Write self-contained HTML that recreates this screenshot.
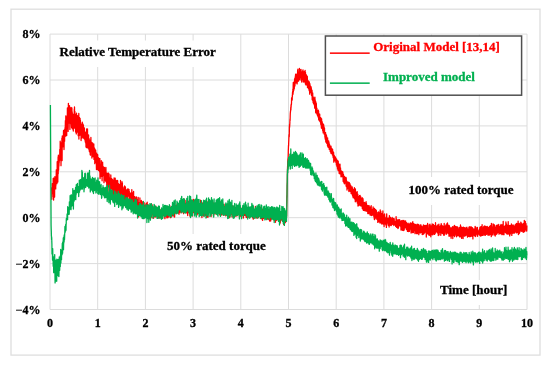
<!DOCTYPE html>
<html><head><meta charset="utf-8"><style>
html,body{margin:0;padding:0;background:#fff;}
body{width:550px;height:365px;overflow:hidden;}
svg{display:block;}
text{font-family:"Liberation Serif","Times New Roman",serif;font-weight:bold;stroke-width:0.3px;paint-order:fill;}
</style></head><body>
<svg width="550" height="365" viewBox="0 0 550 365">
<rect x="0" y="0" width="550" height="365" fill="#fff"/>
<rect x="11" y="9.2" width="529" height="345.9" fill="none" stroke="#dedede" stroke-width="1.3"/>
<g stroke="#dcdcdc" stroke-width="1">
<line x1="50.00" y1="34.1" x2="50.00" y2="309.5"/>
<line x1="97.70" y1="34.1" x2="97.70" y2="309.5"/>
<line x1="145.40" y1="34.1" x2="145.40" y2="309.5"/>
<line x1="193.10" y1="34.1" x2="193.10" y2="309.5"/>
<line x1="240.80" y1="34.1" x2="240.80" y2="309.5"/>
<line x1="288.50" y1="34.1" x2="288.50" y2="309.5"/>
<line x1="336.20" y1="34.1" x2="336.20" y2="309.5"/>
<line x1="383.90" y1="34.1" x2="383.90" y2="309.5"/>
<line x1="431.60" y1="34.1" x2="431.60" y2="309.5"/>
<line x1="479.30" y1="34.1" x2="479.30" y2="309.5"/>
<line x1="527.00" y1="34.1" x2="527.00" y2="309.5"/>
<line x1="50.0" y1="34.10" x2="527.0" y2="34.10"/>
<line x1="50.0" y1="80.00" x2="527.0" y2="80.00"/>
<line x1="50.0" y1="125.90" x2="527.0" y2="125.90"/>
<line x1="50.0" y1="171.80" x2="527.0" y2="171.80"/>
<line x1="50.0" y1="217.70" x2="527.0" y2="217.70"/>
<line x1="50.0" y1="263.60" x2="527.0" y2="263.60"/>
<line x1="50.0" y1="309.50" x2="527.0" y2="309.50"/>
</g>
<g font-size="12" fill="#000" stroke="#000">
<text x="40.5" y="38.30" text-anchor="end">8%</text>
<text x="40.5" y="84.20" text-anchor="end">6%</text>
<text x="40.5" y="130.10" text-anchor="end">4%</text>
<text x="40.5" y="176.00" text-anchor="end">2%</text>
<text x="40.5" y="221.90" text-anchor="end">0%</text>
<text x="40.5" y="267.80" text-anchor="end"><tspan font-weight="normal">&#8722;</tspan>2%</text>
<text x="40.5" y="313.70" text-anchor="end"><tspan font-weight="normal">&#8722;</tspan>4%</text>
<text x="50.00" y="326.8" text-anchor="middle">0</text>
<text x="97.70" y="326.8" text-anchor="middle">1</text>
<text x="145.40" y="326.8" text-anchor="middle">2</text>
<text x="193.10" y="326.8" text-anchor="middle">3</text>
<text x="240.80" y="326.8" text-anchor="middle">4</text>
<text x="288.50" y="326.8" text-anchor="middle">5</text>
<text x="336.20" y="326.8" text-anchor="middle">6</text>
<text x="383.90" y="326.8" text-anchor="middle">7</text>
<text x="431.60" y="326.8" text-anchor="middle">8</text>
<text x="479.30" y="326.8" text-anchor="middle">9</text>
<text x="527.00" y="326.8" text-anchor="middle">10</text>
</g>
<polyline points="51.6,190.4 51.7,187.6 51.8,199.3 51.9,196.7 52.0,196.8 52.1,196.8 52.2,183.6 52.3,193.4 52.4,189.5 52.5,192.0 52.6,190.2 52.7,193.6 52.8,189.5 52.9,188.9 53.0,193.2 53.1,193.2 53.2,178.4 53.3,179.0 53.4,185.3 53.5,188.7 53.6,200.1 53.7,178.1 53.8,194.1 53.9,191.1 54.0,181.4 54.1,197.3 54.2,183.8 54.3,194.4 54.4,180.3 54.5,186.9 54.6,197.0 54.7,178.0 54.8,180.5 54.9,176.6 55.0,186.7 55.1,186.2 55.2,179.0 55.3,183.7 55.4,181.7 55.5,180.8 55.6,182.6 55.7,188.9 55.8,178.1 55.9,185.4 56.0,176.9 56.1,177.4 56.2,176.5 56.3,169.8 56.4,178.5 56.5,179.5 56.6,175.8 56.7,170.7 56.8,177.0 56.9,183.7 57.0,180.5 57.1,179.3 57.2,161.7 57.3,167.4 57.4,162.7 57.5,165.0 57.6,168.8 57.7,169.5 57.8,182.1 57.9,161.1 58.0,167.7 58.1,156.8 58.2,173.7 58.3,164.7 58.4,155.1 58.5,163.7 58.6,170.3 58.7,161.6 58.8,158.4 58.9,166.3 59.0,163.1 59.1,157.0 59.2,162.4 59.3,160.3 59.4,157.3 59.5,157.0 59.6,158.2 59.7,159.5 59.8,149.4 59.9,151.2 60.0,149.9 60.1,160.0 60.2,141.2 60.3,152.4 60.4,157.3 60.5,155.1 60.6,158.7 60.7,154.8 60.8,142.6 60.9,151.2 61.0,165.7 61.1,149.3 61.2,149.7 61.3,156.7 61.4,142.7 61.5,151.2 61.6,154.7 61.7,152.9 61.8,147.4 61.9,138.1 62.0,153.7 62.1,160.5 62.2,141.6 62.3,135.9 62.4,146.1 62.5,143.9 62.6,140.5 62.7,144.2 62.8,142.0 62.9,146.8 63.0,137.9 63.1,141.6 63.2,144.0 63.3,142.8 63.4,144.1 63.5,130.7 63.6,135.7 63.7,141.8 63.8,147.0 63.9,140.5 64.0,149.5 64.1,145.7 64.2,129.9 64.3,134.6 64.4,140.1 64.5,132.0 64.6,141.2 64.7,131.5 64.8,129.1 64.9,133.8 65.0,131.1 65.1,127.4 65.2,129.5 65.3,125.9 65.4,120.6 65.5,120.6 65.6,136.2 65.7,135.5 65.8,116.0 65.9,132.3 66.0,123.5 66.1,124.2 66.2,124.5 66.3,133.0 66.4,117.8 66.5,117.8 66.6,117.0 66.7,135.6 66.8,116.8 66.9,117.0 67.0,118.9 67.1,127.8 67.2,115.4 67.3,121.5 67.4,108.0 67.5,118.7 67.6,122.7 67.7,116.8 67.8,114.5 67.9,124.7 68.0,121.4 68.1,131.4 68.2,126.5 68.3,117.4 68.4,103.3 68.5,115.2 68.6,112.1 68.7,115.8 68.8,108.2 68.9,115.6 69.0,120.9 69.1,118.8 69.2,112.9 69.3,108.8 69.4,123.2 69.5,105.7 69.6,117.8 69.7,122.0 69.8,120.5 69.9,129.4 70.0,120.4 70.1,120.3 70.2,111.7 70.3,116.6 70.4,108.0 70.5,117.3 70.6,114.0 70.7,123.2 70.8,122.0 70.9,118.4 71.0,107.3 71.1,108.3 71.2,124.0 71.3,118.2 71.4,120.5 71.5,126.0 71.6,127.7 71.7,121.9 71.8,112.3 71.9,108.0 72.0,124.5 72.1,118.3 72.2,111.8 72.3,128.8 72.4,113.6 72.5,117.4 72.6,121.8 72.7,126.2 72.8,118.1 72.9,116.5 73.0,114.2 73.1,121.9 73.2,116.3 73.3,131.0 73.4,118.4 73.5,120.6 73.6,125.8 73.7,124.6 73.8,119.0 73.9,114.2 74.0,117.5 74.1,118.3 74.2,114.8 74.3,109.1 74.4,128.2 74.5,106.9 74.6,116.6 74.7,124.1 74.8,120.0 74.9,111.4 75.0,119.4 75.1,123.8 75.2,122.7 75.3,114.7 75.4,119.2 75.5,124.3 75.6,132.1 75.7,122.2 75.8,115.0 75.9,124.4 76.0,120.5 76.1,120.4 76.2,124.7 76.3,133.9 76.4,116.1 76.5,113.2 76.6,117.4 76.7,123.7 76.8,119.0 76.9,120.3 77.0,127.7 77.1,132.1 77.2,120.0 77.3,117.2 77.4,126.9 77.5,115.6 77.6,130.2 77.7,128.0 77.8,116.0 77.9,127.6 78.0,125.3 78.1,118.3 78.2,135.7 78.3,135.5 78.4,129.9 78.5,120.9 78.6,122.5 78.7,119.1 78.8,113.5 78.9,139.0 79.0,122.5 79.1,122.4 79.2,121.1 79.3,126.0 79.4,117.5 79.5,129.4 79.6,135.3 79.7,124.3 79.8,125.2 79.9,131.6 80.0,122.3 80.1,118.5 80.2,132.1 80.3,135.1 80.4,120.3 80.5,126.1 80.6,123.0 80.7,132.2 80.8,128.1 80.9,131.3 81.0,125.3 81.1,140.5 81.2,124.2 81.3,131.3 81.4,136.8 81.5,127.1 81.6,125.9 81.7,128.2 81.8,131.7 81.9,138.0 82.0,138.1 82.1,128.3 82.2,127.4 82.3,122.2 82.4,131.6 82.5,133.3 82.6,134.7 82.7,137.1 82.8,128.2 82.9,124.0 83.0,129.7 83.1,130.6 83.2,131.7 83.3,131.7 83.4,125.0 83.5,138.1 83.6,132.1 83.7,129.9 83.8,134.3 83.9,131.4 84.0,132.2 84.1,131.6 84.2,138.8 84.3,138.9 84.4,128.0 84.5,137.8 84.6,138.8 84.7,134.5 84.8,136.5 84.9,139.9 85.0,137.5 85.1,135.1 85.2,137.4 85.3,142.1 85.4,136.3 85.5,137.8 85.6,132.1 85.7,139.0 85.8,143.2 85.9,135.1 86.0,147.1 86.1,140.0 86.2,147.3 86.3,134.8 86.4,138.3 86.5,132.9 86.6,128.9 86.7,138.9 86.8,135.8 86.9,141.2 87.0,143.3 87.1,138.5 87.2,148.1 87.3,135.9 87.4,143.0 87.5,128.8 87.6,143.6 87.7,137.8 87.8,138.4 87.9,141.5 88.0,136.2 88.1,147.3 88.2,145.5 88.3,136.2 88.4,144.8 88.5,146.2 88.6,134.9 88.7,148.8 88.8,148.1 88.9,149.5 89.0,138.4 89.1,139.3 89.2,146.7 89.3,151.3 89.4,142.2 89.5,147.4 89.6,139.8 89.7,151.9 89.8,141.3 89.9,150.1 90.0,142.6 90.1,145.7 90.2,154.8 90.3,147.1 90.4,149.4 90.5,155.2 90.6,140.5 90.7,146.5 90.8,147.5 90.9,137.4 91.0,147.6 91.1,141.9 91.2,143.3 91.3,149.9 91.4,143.0 91.5,142.1 91.6,144.3 91.7,147.7 91.8,148.2 91.9,158.0 92.0,144.3 92.1,147.2 92.2,154.6 92.3,151.6 92.4,156.0 92.5,147.2 92.6,142.9 92.7,146.0 92.8,152.3 92.9,151.2 93.0,148.1 93.1,155.0 93.2,156.7 93.3,152.3 93.4,152.9 93.5,154.4 93.6,152.8 93.7,157.0 93.8,144.0 93.9,155.2 94.0,159.4 94.1,153.8 94.2,159.3 94.3,153.1 94.4,149.1 94.5,157.7 94.6,148.2 94.7,154.3 94.8,163.7 94.9,152.0 95.0,156.2 95.1,156.7 95.2,160.8 95.3,153.8 95.4,152.5 95.5,153.4 95.6,150.0 95.7,150.6 95.8,158.0 95.9,153.9 96.0,162.6 96.1,160.7 96.2,157.6 96.3,159.8 96.4,167.1 96.5,169.6 96.6,163.9 96.7,153.1 96.8,160.8 96.9,154.2 97.0,157.6 97.1,157.4 97.2,162.2 97.3,169.1 97.4,157.6 97.5,159.9 97.6,169.4 97.7,154.7 97.8,169.2 97.9,165.7 98.0,161.3 98.1,164.3 98.2,163.5 98.3,157.4 98.4,170.6 98.5,159.0 98.6,166.0 98.7,158.6 98.8,162.9 98.9,168.8 99.0,166.1 99.1,158.7 99.2,166.1 99.3,162.8 99.4,168.2 99.5,161.7 99.6,169.3 99.7,172.1 99.8,158.3 99.9,162.9 100.0,177.4 100.1,178.6 100.2,171.4 100.3,167.4 100.4,166.0 100.5,164.5 100.6,173.0 100.7,168.9 100.8,176.5 100.9,169.7 101.0,169.4 101.1,167.4 101.2,171.3 101.3,160.7 101.4,170.4 101.5,169.3 101.6,164.4 101.7,173.5 101.8,164.7 101.9,169.1 102.0,165.8 102.1,180.8 102.2,171.3 102.3,173.6 102.4,176.5 102.5,172.4 102.6,162.1 102.7,165.1 102.8,172.6 102.9,173.7 103.0,169.0 103.1,171.8 103.2,175.7 103.3,173.7 103.4,166.9 103.5,169.0 103.6,167.6 103.7,174.9 103.8,167.6 103.9,172.4 104.0,182.7 104.1,171.3 104.2,174.6 104.3,179.8 104.4,176.2 104.5,167.4 104.6,170.2 104.7,173.1 104.8,170.9 104.9,177.8 105.0,176.7 105.1,171.3 105.2,178.2 105.3,179.5 105.4,180.9 105.5,180.3 105.6,176.9 105.7,180.6 105.8,173.6 105.9,167.4 106.0,171.9 106.1,181.7 106.2,179.4 106.3,173.9 106.4,181.2 106.5,182.5 106.6,174.1 106.7,183.0 106.8,185.4 106.9,173.2 107.0,177.5 107.1,183.6 107.2,175.1 107.3,180.0 107.4,181.8 107.5,184.3 107.6,175.8 107.7,176.8 107.8,183.5 107.9,183.2 108.0,177.4 108.1,180.4 108.2,172.9 108.3,186.8 108.4,181.1 108.5,173.7 108.6,182.1 108.7,173.5 108.8,183.4 108.9,184.3 109.0,191.1 109.1,174.1 109.2,184.7 109.3,177.0 109.4,181.2 109.5,187.0 109.6,178.5 109.7,189.3 109.8,179.7 109.9,178.6 110.0,179.9 110.1,185.6 110.2,190.0 110.3,187.1 110.4,179.1 110.5,178.3 110.6,188.0 110.7,182.0 110.8,174.9 110.9,178.3 111.0,178.3 111.1,184.9 111.2,181.9 111.3,188.6 111.4,185.5 111.5,178.5 111.6,181.3 111.7,187.1 111.8,178.8 111.9,186.2 112.0,195.3 112.1,179.1 112.2,185.0 112.3,179.4 112.4,191.1 112.5,183.6 112.6,193.5 112.7,192.3 112.8,185.7 112.9,192.3 113.0,186.3 113.1,180.1 113.2,180.2 113.3,192.1 113.4,188.6 113.5,187.7 113.6,195.2 113.7,193.1 113.8,185.1 113.9,183.8 114.0,190.5 114.1,177.8 114.2,185.3 114.3,180.7 114.4,193.3 114.5,185.9 114.6,190.4 114.7,192.9 114.8,191.7 114.9,185.2 115.0,189.0 115.1,183.7 115.2,178.2 115.3,185.8 115.4,190.5 115.5,193.5 115.6,194.2 115.7,191.3 115.8,187.5 115.9,185.7 116.0,190.9 116.1,182.3 116.2,180.3 116.3,186.1 116.4,185.7 116.5,191.5 116.6,193.7 116.7,182.6 116.8,184.1 116.9,186.1 117.0,194.4 117.1,186.1 117.2,183.0 117.3,191.4 117.4,192.0 117.5,180.4 117.6,187.5 117.7,180.7 117.8,190.1 117.9,185.9 118.0,183.3 118.1,189.0 118.2,183.5 118.3,199.4 118.4,186.9 118.5,189.9 118.6,183.6 118.7,195.1 118.8,187.6 118.9,189.4 119.0,192.0 119.1,196.4 119.2,187.4 119.3,192.5 119.4,191.9 119.5,184.7 119.6,186.1 119.7,195.5 119.8,184.8 119.9,195.1 120.0,190.7 120.1,195.0 120.2,195.1 120.3,190.0 120.4,192.2 120.5,180.4 120.6,186.2 120.7,194.6 120.8,191.9 120.9,188.2 121.0,188.2 121.1,186.5 121.2,196.5 121.3,184.7 121.4,184.4 121.5,183.6 121.6,188.7 121.7,197.8 121.8,191.4 121.9,183.8 122.0,181.7 122.1,192.1 122.2,189.0 122.3,191.5 122.4,182.9 122.5,198.7 122.6,195.7 122.7,188.3 122.8,186.7 122.9,192.6 123.0,190.8 123.1,189.1 123.2,187.6 123.3,192.8 123.4,192.0 123.5,194.0 123.6,195.5 123.7,198.5 123.8,196.6 123.9,197.9 124.0,189.4 124.1,199.0 124.2,189.4 124.3,194.6 124.4,199.4 124.5,195.7 124.6,186.0 124.7,194.7 124.8,198.3 124.9,190.9 125.0,188.5 125.1,191.8 125.2,194.2 125.3,200.6 125.4,187.0 125.5,188.5 125.6,195.5 125.7,191.3 125.8,191.7 125.9,189.7 126.0,197.2 126.1,195.9 126.2,193.4 126.3,192.0 126.4,192.3 126.5,191.8 126.6,189.8 126.7,195.9 126.8,198.7 126.9,195.5 127.0,192.2 127.1,193.1 127.2,199.3 127.3,200.9 127.4,195.2 127.5,195.5 127.6,192.8 127.7,188.8 127.8,192.5 127.9,192.1 128.0,192.1 128.1,194.3 128.2,196.1 128.3,194.1 128.4,191.0 128.5,189.7 128.6,189.2 128.7,196.1 128.8,193.3 128.9,190.7 129.0,189.5 129.1,199.2 129.2,198.7 129.3,191.3 129.4,195.7 129.5,200.1 129.6,195.9 129.7,202.3 129.8,196.0 129.9,203.9 130.0,194.8 130.1,194.0 130.2,196.1 130.3,201.2 130.4,197.2 130.5,195.8 130.6,193.4 130.7,197.0 130.8,192.8 130.9,202.2 131.0,204.7 131.1,195.8 131.2,204.9 131.3,200.0 131.4,203.4 131.5,198.3 131.6,199.0 131.7,201.3 131.8,189.6 131.9,192.7 132.0,201.7 132.1,200.6 132.2,199.9 132.3,195.8 132.4,206.2 132.5,193.6 132.6,204.0 132.7,199.9 132.8,192.8 132.9,201.8 133.0,201.2 133.1,204.2 133.2,206.1 133.3,200.2 133.4,198.5 133.5,202.3 133.6,191.4 133.7,205.7 133.8,205.3 133.9,196.3 134.0,204.4 134.1,197.4 134.2,200.6 134.3,204.8 134.4,201.1 134.5,202.2 134.6,202.8 134.7,197.8 134.8,196.7 134.9,207.1 135.0,204.6 135.1,197.1 135.2,203.7 135.3,199.7 135.4,202.2 135.5,203.5 135.6,199.0 135.7,200.3 135.8,203.2 135.9,198.6 136.0,205.9 136.1,208.5 136.2,208.1 136.3,206.8 136.4,204.3 136.5,196.8 136.6,202.8 136.7,199.0 136.8,207.8 136.9,209.2 137.0,209.7 137.1,206.1 137.2,201.9 137.3,204.7 137.4,211.7 137.5,203.6 137.6,206.5 137.7,205.6 137.8,199.5 137.9,207.9 138.0,208.6 138.1,200.0 138.2,197.4 138.3,211.4 138.4,212.3 138.5,213.6 138.6,216.9 138.7,202.4 138.8,208.3 138.9,212.4 139.0,207.8 139.1,207.2 139.2,203.7 139.3,204.3 139.4,208.6 139.5,211.9 139.6,208.2 139.7,206.5 139.8,209.9 139.9,197.9 140.0,206.6 140.1,213.4 140.2,211.7 140.3,210.3 140.4,204.8 140.5,204.2 140.6,208.7 140.7,214.0 140.8,205.7 140.9,205.9 141.0,214.8 141.1,204.0 141.2,207.9 141.3,200.4 141.4,202.6 141.5,201.8 141.6,204.0 141.7,209.2 141.8,204.9 141.9,210.2 142.0,211.8 142.1,201.9 142.2,207.5 142.3,202.7 142.4,207.8 142.5,206.8 142.6,211.0 142.7,201.9 142.8,207.1 142.9,204.2 143.0,207.8 143.1,211.0 143.2,201.9 143.3,208.9 143.4,205.6 143.5,212.5 143.6,208.9 143.7,208.3 143.8,213.6 143.9,204.1 144.0,214.8 144.1,202.7 144.2,208.1 144.3,213.2 144.4,209.3 144.5,208.2 144.6,206.8 144.7,205.5 144.8,209.0 144.9,214.3 145.0,207.8 145.1,210.8 145.2,209.2 145.3,210.2 145.4,206.5 145.5,208.9 145.6,211.9 145.7,209.2 145.8,204.6 145.9,207.3 146.0,212.2 146.1,211.4 146.2,203.3 146.3,211.9 146.4,215.9 146.5,206.7 146.6,203.6 146.7,214.9 146.8,211.5 146.9,209.1 147.0,208.4 147.1,213.2 147.2,202.2 147.3,216.6 147.4,210.2 147.5,213.9 147.6,206.1 147.7,216.1 147.8,213.2 147.9,209.8 148.0,214.2 148.1,204.6 148.2,210.5 148.3,209.2 148.4,209.8 148.5,217.0 148.6,211.3 148.7,210.2 148.8,208.0 148.9,209.3 149.0,214.0 149.1,214.2 149.2,213.3 149.3,212.4 149.4,217.7 149.5,216.0 149.6,209.3 149.7,206.5 149.8,213.8 149.9,215.1 150.0,219.1 150.1,213.9 150.2,210.6 150.3,209.1 150.4,208.6 150.5,217.0 150.6,210.6 150.7,212.8 150.8,210.2 150.9,210.6 151.0,203.9 151.1,214.9 151.2,204.9 151.3,209.1 151.4,207.9 151.5,210.7 151.6,211.5 151.7,215.4 151.8,210.9 151.9,217.8 152.0,204.6 152.1,207.0 152.2,215.1 152.3,211.8 152.4,208.0 152.5,211.3 152.6,208.8 152.7,212.8 152.8,206.9 152.9,206.4 153.0,207.9 153.1,211.0 153.2,211.2 153.3,212.3 153.4,212.1 153.5,208.9 153.6,218.3 153.7,212.2 153.8,211.4 153.9,212.7 154.0,212.7 154.1,212.9 154.2,211.9 154.3,214.0 154.4,215.2 154.5,212.2 154.6,210.5 154.7,215.6 154.8,216.8 154.9,208.3 155.0,214.4 155.1,213.9 155.2,207.2 155.3,217.0 155.4,207.8 155.5,211.3 155.6,211.6 155.7,206.6 155.8,212.2 155.9,206.2 156.0,213.3 156.1,216.6 156.2,214.1 156.3,209.8 156.4,215.0 156.5,210.7 156.6,209.9 156.7,210.6 156.8,210.9 156.9,213.4 157.0,209.9 157.1,210.1 157.2,211.8 157.3,215.3 157.4,213.7 157.5,214.5 157.6,209.8 157.7,215.6 157.8,218.4 157.9,210.0 158.0,216.7 158.1,218.0 158.2,214.8 158.3,215.7 158.4,214.4 158.5,215.7 158.6,217.6 158.7,216.3 158.8,216.2 158.9,212.1 159.0,214.0 159.1,213.7 159.2,212.6 159.3,210.6 159.4,217.3 159.5,216.3 159.6,217.6 159.7,215.1 159.8,212.1 159.9,213.0 160.0,216.7 160.1,216.7 160.2,217.7 160.3,211.3 160.4,214.4 160.5,217.3 160.6,216.8 160.7,211.5 160.8,213.1 160.9,214.5 161.0,209.4 161.1,217.0 161.2,213.1 161.3,212.4 161.4,215.0 161.5,212.0 161.6,216.2 161.7,213.4 161.8,215.0 161.9,211.6 162.0,216.7 162.1,209.1 162.2,216.2 162.3,215.3 162.4,212.8 162.5,214.0 162.6,214.9 162.7,217.0 162.8,212.2 162.9,216.1 163.0,211.2 163.1,215.5 163.2,212.9 163.3,213.3 163.4,215.2 163.5,209.3 163.6,213.9 163.7,214.5 163.8,211.6 163.9,212.9 164.0,211.4 164.1,210.5 164.2,211.8 164.3,214.1 164.4,212.1 164.5,212.9 164.6,216.9 164.7,213.1 164.8,214.6 164.9,218.7 165.0,214.8 165.1,213.6 165.2,209.8 165.3,212.4 165.4,209.1 165.5,209.6 165.6,213.2 165.7,210.6 165.8,214.3 165.9,213.4 166.0,210.4 166.1,212.0 166.2,213.3 166.3,213.4 166.4,216.9 166.5,211.2 166.6,212.8 166.7,213.0 166.8,208.7 166.9,214.2 167.0,217.9 167.1,208.6 167.2,209.0 167.3,210.7 167.4,212.4 167.5,208.0 167.6,210.6 167.7,214.6 167.8,209.4 167.9,214.1 168.0,213.5 168.1,217.6 168.2,211.6 168.3,215.7 168.4,212.5 168.5,214.6 168.6,208.6 168.7,216.3 168.8,209.3 168.9,212.7 169.0,214.8 169.1,215.4 169.2,210.6 169.3,215.5 169.4,215.1 169.5,215.5 169.6,208.0 169.7,208.1 169.8,214.9 169.9,206.0 170.0,212.6 170.1,209.8 170.2,217.6 170.3,214.5 170.4,210.7 170.5,215.0 170.6,213.1 170.7,211.3 170.8,212.2 170.9,217.6 171.0,211.9 171.1,214.1 171.2,209.2 171.3,208.2 171.4,213.2 171.5,216.1 171.6,213.2 171.7,210.8 171.8,207.7 171.9,207.9 172.0,209.0 172.1,209.3 172.2,210.9 172.3,215.0 172.4,211.1 172.5,210.0 172.6,209.7 172.7,206.8 172.8,216.0 172.9,211.4 173.0,208.2 173.1,211.0 173.2,212.6 173.3,215.5 173.4,212.0 173.5,211.7 173.6,210.3 173.7,208.5 173.8,213.5 173.9,214.2 174.0,211.8 174.1,209.1 174.2,209.1 174.3,216.9 174.4,211.2 174.5,210.4 174.6,217.1 174.7,210.3 174.8,210.9 174.9,212.3 175.0,205.9 175.1,211.6 175.2,211.1 175.3,207.2 175.4,205.6 175.5,213.1 175.6,210.0 175.7,208.7 175.8,210.0 175.9,209.7 176.0,210.4 176.1,209.6 176.2,208.8 176.3,208.6 176.4,210.1 176.5,205.6 176.6,210.3 176.7,213.2 176.8,210.0 176.9,211.6 177.0,207.7 177.1,204.1 177.2,205.3 177.3,209.2 177.4,206.4 177.5,212.2 177.6,206.3 177.7,208.1 177.8,210.2 177.9,205.6 178.0,209.5 178.1,212.0 178.2,207.8 178.3,210.3 178.4,213.1 178.5,206.4 178.6,203.8 178.7,208.0 178.8,208.1 178.9,208.6 179.0,214.3 179.1,209.9 179.2,203.4 179.3,211.1 179.4,209.8 179.5,207.2 179.6,212.3 179.7,202.6 179.8,204.6 179.9,209.3 180.0,204.1 180.1,201.7 180.2,210.0 180.3,209.7 180.4,202.7 180.5,210.6 180.6,206.1 180.7,205.1 180.8,212.1 180.9,209.6 181.0,212.8 181.1,212.3 181.2,209.6 181.3,211.4 181.4,210.6 181.5,209.5 181.6,207.4 181.7,206.5 181.8,208.9 181.9,206.0 182.0,203.6 182.1,206.5 182.2,211.7 182.3,204.1 182.4,207.1 182.5,205.6 182.6,209.1 182.7,208.7 182.8,209.1 182.9,209.1 183.0,208.1 183.1,212.7 183.2,210.0 183.3,206.8 183.4,207.1 183.5,209.7 183.6,213.7 183.7,207.9 183.8,206.1 183.9,200.0 184.0,207.0 184.1,207.3 184.2,212.0 184.3,208.1 184.4,207.5 184.5,199.2 184.6,205.8 184.7,211.2 184.8,206.4 184.9,203.6 185.0,204.6 185.1,200.3 185.2,204.3 185.3,204.7 185.4,203.8 185.5,207.5 185.6,212.0 185.7,207.8 185.8,205.7 185.9,207.8 186.0,211.8 186.1,204.7 186.2,203.5 186.3,206.2 186.4,207.3 186.5,209.6 186.6,212.9 186.7,212.0 186.8,205.9 186.9,207.8 187.0,208.2 187.1,211.8 187.2,208.6 187.3,205.7 187.4,204.3 187.5,207.5 187.6,210.6 187.7,215.5 187.8,209.5 187.9,205.7 188.0,206.0 188.1,209.0 188.2,208.1 188.3,204.8 188.4,205.3 188.5,209.2 188.6,212.5 188.7,201.1 188.8,209.4 188.9,211.9 189.0,208.5 189.1,209.9 189.2,207.4 189.3,204.2 189.4,201.4 189.5,201.6 189.6,211.0 189.7,206.7 189.8,205.7 189.9,216.0 190.0,203.2 190.1,212.2 190.2,211.4 190.3,210.8 190.4,201.2 190.5,212.9 190.6,205.0 190.7,201.4 190.8,203.1 190.9,212.3 191.0,207.3 191.1,201.2 191.2,202.7 191.3,202.4 191.4,201.2 191.5,205.2 191.6,205.2 191.7,207.7 191.8,201.1 191.9,201.6 192.0,210.9 192.1,203.5 192.2,209.9 192.3,207.2 192.4,215.7 192.5,216.0 192.6,201.7 192.7,211.6 192.8,207.5 192.9,199.9 193.0,207.6 193.1,210.8 193.2,209.4 193.3,207.2 193.4,212.5 193.5,210.3 193.6,199.5 193.7,207.5 193.8,202.1 193.9,209.6 194.0,207.6 194.1,209.5 194.2,205.9 194.3,212.8 194.4,203.3 194.5,210.2 194.6,204.2 194.7,208.7 194.8,206.9 194.9,204.2 195.0,210.0 195.1,205.1 195.2,204.8 195.3,210.3 195.4,206.9 195.5,207.0 195.6,208.7 195.7,212.8 195.8,208.4 195.9,211.0 196.0,210.0 196.1,206.1 196.2,199.3 196.3,204.5 196.4,210.0 196.5,205.8 196.6,211.3 196.7,203.0 196.8,208.8 196.9,210.1 197.0,200.2 197.1,208.6 197.2,214.8 197.3,210.7 197.4,209.9 197.5,204.2 197.6,211.5 197.7,205.5 197.8,210.9 197.9,210.8 198.0,213.3 198.1,209.2 198.2,205.0 198.3,210.8 198.4,211.1 198.5,208.6 198.6,209.0 198.7,213.5 198.8,205.2 198.9,205.8 199.0,205.2 199.1,207.3 199.2,205.6 199.3,208.8 199.4,206.7 199.5,210.1 199.6,203.9 199.7,213.9 199.8,212.0 199.9,208.1 200.0,208.9 200.1,208.6 200.2,211.2 200.3,210.6 200.4,200.2 200.5,206.5 200.6,205.5 200.7,205.0 200.8,205.5 200.9,203.6 201.0,202.7 201.1,212.6 201.2,212.6 201.3,210.6 201.4,202.8 201.5,210.8 201.6,210.3 201.7,208.5 201.8,206.5 201.9,217.5 202.0,213.5 202.1,206.5 202.2,208.0 202.3,210.0 202.4,203.0 202.5,211.5 202.6,209.3 202.7,203.5 202.8,205.3 202.9,214.4 203.0,207.9 203.1,214.0 203.2,204.9 203.3,209.0 203.4,212.7 203.5,216.1 203.6,206.6 203.7,214.9 203.8,203.0 203.9,207.5 204.0,210.0 204.1,208.1 204.2,205.5 204.3,212.1 204.4,207.0 204.5,206.4 204.6,210.4 204.7,203.8 204.8,207.3 204.9,214.6 205.0,214.2 205.1,208.8 205.2,211.2 205.3,204.5 205.4,215.4 205.5,209.8 205.6,202.8 205.7,213.6 205.8,212.7 205.9,206.7 206.0,215.6 206.1,203.5 206.2,204.1 206.3,210.6 206.4,208.7 206.5,209.0 206.6,211.8 206.7,217.4 206.8,213.9 206.9,212.1 207.0,206.4 207.1,201.7 207.2,205.0 207.3,214.0 207.4,207.5 207.5,212.3 207.6,213.6 207.7,213.6 207.8,204.5 207.9,208.0 208.0,217.2 208.1,207.2 208.2,205.3 208.3,208.2 208.4,206.0 208.5,207.8 208.6,209.3 208.7,201.1 208.8,208.1 208.9,213.3 209.0,208.4 209.1,203.1 209.2,212.3 209.3,202.7 209.4,203.5 209.5,210.0 209.6,210.4 209.7,200.1 209.8,207.7 209.9,207.1 210.0,211.5 210.1,207.9 210.2,206.4 210.3,208.1 210.4,211.0 210.5,205.7 210.6,209.4 210.7,205.4 210.8,206.0 210.9,205.7 211.0,204.8 211.1,216.6 211.2,211.7 211.3,206.8 211.4,212.3 211.5,210.9 211.6,207.6 211.7,206.1 211.8,209.1 211.9,206.4 212.0,208.5 212.1,207.5 212.2,201.6 212.3,211.2 212.4,209.3 212.5,211.9 212.6,205.9 212.7,208.4 212.8,209.5 212.9,212.2 213.0,202.4 213.1,210.3 213.2,206.1 213.3,211.8 213.4,207.6 213.5,216.5 213.6,208.3 213.7,208.8 213.8,208.6 213.9,214.8 214.0,212.5 214.1,204.8 214.2,212.1 214.3,213.0 214.4,203.3 214.5,210.2 214.6,213.2 214.7,211.5 214.8,204.6 214.9,209.9 215.0,208.2 215.1,210.0 215.2,204.9 215.3,209.1 215.4,204.1 215.5,207.6 215.6,205.1 215.7,206.7 215.8,204.7 215.9,205.3 216.0,212.6 216.1,214.2 216.2,208.3 216.3,207.4 216.4,212.8 216.5,206.8 216.6,204.3 216.7,213.7 216.8,207.4 216.9,204.3 217.0,207.5 217.1,204.7 217.2,206.2 217.3,208.7 217.4,206.4 217.5,208.0 217.6,211.4 217.7,212.2 217.8,206.9 217.9,209.1 218.0,209.4 218.1,211.0 218.2,210.1 218.3,211.9 218.4,203.4 218.5,213.3 218.6,206.6 218.7,208.6 218.8,208.3 218.9,211.0 219.0,208.0 219.1,207.2 219.2,207.9 219.3,208.2 219.4,206.1 219.5,214.3 219.6,212.4 219.7,210.7 219.8,211.3 219.9,208.0 220.0,215.0 220.1,207.2 220.2,209.6 220.3,211.2 220.4,212.8 220.5,202.0 220.6,207.6 220.7,208.6 220.8,206.1 220.9,211.6 221.0,206.3 221.1,215.1 221.2,212.2 221.3,215.1 221.4,210.5 221.5,210.5 221.6,206.4 221.7,209.5 221.8,207.8 221.9,211.5 222.0,214.2 222.1,209.9 222.2,203.2 222.3,207.0 222.4,209.8 222.5,213.1 222.6,210.4 222.7,205.5 222.8,207.9 222.9,203.9 223.0,210.1 223.1,211.7 223.2,209.9 223.3,204.1 223.4,215.3 223.5,213.2 223.6,206.8 223.7,211.9 223.8,207.6 223.9,206.1 224.0,213.1 224.1,207.9 224.2,209.5 224.3,214.2 224.4,210.1 224.5,209.1 224.6,208.9 224.7,206.3 224.8,209.2 224.9,212.2 225.0,204.1 225.1,208.0 225.2,212.7 225.3,209.6 225.4,208.4 225.5,211.0 225.6,209.4 225.7,214.1 225.8,215.9 225.9,207.5 226.0,215.2 226.1,207.6 226.2,212.2 226.3,208.0 226.4,205.2 226.5,207.6 226.6,215.0 226.7,208.2 226.8,209.0 226.9,214.9 227.0,212.2 227.1,211.6 227.2,208.2 227.3,211.4 227.4,210.0 227.5,210.0 227.6,205.6 227.7,213.8 227.8,210.0 227.9,215.2 228.0,212.2 228.1,207.4 228.2,203.9 228.3,213.7 228.4,208.1 228.5,208.5 228.6,207.2 228.7,216.3 228.8,210.7 228.9,214.7 229.0,211.9 229.1,209.3 229.2,205.5 229.3,214.6 229.4,210.4 229.5,205.6 229.6,211.1 229.7,217.5 229.8,206.2 229.9,214.4 230.0,215.0 230.1,212.9 230.2,210.2 230.3,214.3 230.4,205.4 230.5,207.6 230.6,211.4 230.7,207.3 230.8,207.9 230.9,210.6 231.0,214.2 231.1,208.1 231.2,212.1 231.3,212.3 231.4,206.0 231.5,211.2 231.6,211.1 231.7,210.6 231.8,214.4 231.9,205.6 232.0,212.3 232.1,210.4 232.2,217.1 232.3,211.0 232.4,212.5 232.5,213.6 232.6,209.5 232.7,213.4 232.8,206.1 232.9,214.3 233.0,206.6 233.1,211.3 233.2,208.2 233.3,212.5 233.4,207.1 233.5,212.4 233.6,208.5 233.7,214.4 233.8,213.3 233.9,217.4 234.0,210.3 234.1,207.5 234.2,213.8 234.3,213.4 234.4,210.3 234.5,214.6 234.6,212.9 234.7,208.1 234.8,210.4 234.9,215.4 235.0,211.0 235.1,211.8 235.2,209.6 235.3,207.5 235.4,212.8 235.5,211.2 235.6,210.3 235.7,216.2 235.8,211.1 235.9,207.9 236.0,211.8 236.1,208.9 236.2,209.3 236.3,207.9 236.4,213.7 236.5,212.0 236.6,208.2 236.7,212.1 236.8,210.5 236.9,215.9 237.0,207.1 237.1,209.6 237.2,212.1 237.3,215.1 237.4,214.5 237.5,212.4 237.6,214.1 237.7,212.7 237.8,213.5 237.9,208.7 238.0,213.2 238.1,211.3 238.2,212.1 238.3,209.4 238.4,212.1 238.5,209.0 238.6,211.8 238.7,207.5 238.8,209.7 238.9,214.4 239.0,214.1 239.1,209.0 239.2,208.6 239.3,216.2 239.4,207.1 239.5,207.8 239.6,216.4 239.7,213.2 239.8,211.9 239.9,212.0 240.0,210.7 240.1,212.2 240.2,210.6 240.3,210.8 240.4,210.9 240.5,215.8 240.6,208.2 240.7,211.4 240.8,210.1 240.9,208.9 241.0,209.3 241.1,214.8 241.2,216.5 241.3,209.3 241.4,213.5 241.5,213.4 241.6,209.4 241.7,212.3 241.8,215.4 241.9,214.1 242.0,209.0 242.1,210.0 242.2,210.3 242.3,212.8 242.4,207.4 242.5,210.1 242.6,211.2 242.7,211.1 242.8,210.7 242.9,213.2 243.0,211.2 243.1,215.9 243.2,215.3 243.3,208.8 243.4,218.0 243.5,212.0 243.6,213.1 243.7,211.2 243.8,213.1 243.9,214.8 244.0,215.3 244.1,211.1 244.2,211.5 244.3,210.4 244.4,214.9 244.5,214.6 244.6,212.6 244.7,209.1 244.8,208.2 244.9,215.5 245.0,209.2 245.1,208.4 245.2,215.3 245.3,214.3 245.4,210.0 245.5,209.1 245.6,211.0 245.7,211.2 245.8,206.1 245.9,216.0 246.0,208.3 246.1,211.1 246.2,212.0 246.3,217.6 246.4,212.1 246.5,214.2 246.6,213.1 246.7,213.0 246.8,209.4 246.9,214.6 247.0,212.4 247.1,209.9 247.2,217.3 247.3,213.7 247.4,207.9 247.5,215.6 247.6,212.8 247.7,216.2 247.8,212.4 247.9,214.4 248.0,213.1 248.1,208.3 248.2,210.7 248.3,211.5 248.4,217.3 248.5,217.0 248.6,211.7 248.7,211.3 248.8,213.6 248.9,212.0 249.0,215.7 249.1,212.7 249.2,212.7 249.3,209.3 249.4,215.6 249.5,214.0 249.6,212.8 249.7,212.2 249.8,211.8 249.9,209.8 250.0,216.9 250.1,213.4 250.2,212.0 250.3,211.7 250.4,213.1 250.5,213.3 250.6,215.8 250.7,210.7 250.8,216.3 250.9,210.9 251.0,212.3 251.1,210.8 251.2,215.2 251.3,213.9 251.4,214.4 251.5,213.9 251.6,212.5 251.7,215.4 251.8,208.7 251.9,212.2 252.0,216.0 252.1,210.6 252.2,214.0 252.3,212.9 252.4,208.1 252.5,212.2 252.6,217.8 252.7,207.4 252.8,217.4 252.9,208.3 253.0,213.3 253.1,210.7 253.2,214.8 253.3,219.2 253.4,213.0 253.5,214.7 253.6,209.4 253.7,217.6 253.8,214.0 253.9,211.2 254.0,218.4 254.1,209.8 254.2,211.6 254.3,214.0 254.4,216.5 254.5,214.9 254.6,211.7 254.7,214.6 254.8,209.8 254.9,214.1 255.0,212.4 255.1,212.5 255.2,212.4 255.3,208.9 255.4,206.3 255.5,210.2 255.6,215.4 255.7,217.3 255.8,212.5 255.9,215.1 256.0,209.9 256.1,211.5 256.2,213.4 256.3,213.4 256.4,215.9 256.5,213.4 256.6,218.0 256.7,217.8 256.8,217.9 256.9,209.7 257.0,213.9 257.1,213.4 257.2,213.6 257.3,217.9 257.4,211.3 257.5,211.9 257.6,215.8 257.7,210.8 257.8,214.7 257.9,210.9 258.0,212.6 258.1,216.0 258.2,211.2 258.3,216.2 258.4,217.7 258.5,208.7 258.6,212.1 258.7,213.9 258.8,209.6 258.9,213.7 259.0,214.2 259.1,212.1 259.2,213.1 259.3,215.6 259.4,209.1 259.5,211.7 259.6,214.4 259.7,209.6 259.8,213.5 259.9,211.7 260.0,211.8 260.1,216.7 260.2,211.1 260.3,212.8 260.4,207.6 260.5,216.5 260.6,214.1 260.7,208.9 260.8,207.5 260.9,212.7 261.0,217.6 261.1,213.5 261.2,214.0 261.3,214.2 261.4,213.4 261.5,218.7 261.6,216.5 261.7,215.4 261.8,213.0 261.9,216.0 262.0,215.8 262.1,209.1 262.2,213.2 262.3,211.2 262.4,220.0 262.5,214.2 262.6,220.4 262.7,212.5 262.8,209.3 262.9,209.8 263.0,216.2 263.1,211.9 263.2,211.5 263.3,214.2 263.4,214.3 263.5,218.4 263.6,216.3 263.7,216.9 263.8,214.9 263.9,214.1 264.0,212.2 264.1,214.3 264.2,211.0 264.3,210.0 264.4,215.8 264.5,209.8 264.6,210.6 264.7,209.8 264.8,215.8 264.9,211.9 265.0,217.8 265.1,218.8 265.2,210.8 265.3,213.8 265.4,212.2 265.5,211.8 265.6,212.5 265.7,214.5 265.8,211.2 265.9,213.0 266.0,213.7 266.1,215.1 266.2,216.0 266.3,216.0 266.4,218.9 266.5,217.8 266.6,218.7 266.7,215.0 266.8,212.4 266.9,211.6 267.0,216.3 267.1,210.3 267.2,215.3 267.3,216.0 267.4,219.2 267.5,216.3 267.6,212.9 267.7,210.0 267.8,212.0 267.9,211.9 268.0,214.7 268.1,209.6 268.2,215.0 268.3,216.2 268.4,218.0 268.5,209.5 268.6,212.1 268.7,212.3 268.8,219.6 268.9,217.2 269.0,213.9 269.1,211.2 269.2,217.8 269.3,215.2 269.4,217.0 269.5,215.4 269.6,221.0 269.7,215.0 269.8,215.9 269.9,209.7 270.0,214.8 270.1,213.1 270.2,216.8 270.3,215.4 270.4,209.7 270.5,213.1 270.6,215.4 270.7,221.1 270.8,215.0 270.9,218.3 271.0,218.3 271.1,211.8 271.2,218.5 271.3,215.0 271.4,219.1 271.5,215.8 271.6,211.1 271.7,215.3 271.8,217.9 271.9,211.0 272.0,210.0 272.1,215.6 272.2,214.5 272.3,212.2 272.4,208.2 272.5,216.1 272.6,208.3 272.7,218.3 272.8,217.7 272.9,212.6 273.0,215.6 273.1,213.9 273.2,210.0 273.3,213.8 273.4,213.5 273.5,217.7 273.6,215.8 273.7,214.4 273.8,216.1 273.9,220.1 274.0,210.7 274.1,217.9 274.2,217.5 274.3,217.6 274.4,209.0 274.5,211.4 274.6,213.6 274.7,215.5 274.8,217.0 274.9,215.0 275.0,214.5 275.1,215.3 275.2,215.1 275.3,217.8 275.4,212.3 275.5,222.3 275.6,219.4 275.7,213.3 275.8,213.9 275.9,215.4 276.0,213.0 276.1,214.7 276.2,213.3 276.3,220.4 276.4,213.4 276.5,218.2 276.6,215.5 276.7,216.9 276.8,213.4 276.9,217.6 277.0,218.3 277.1,217.4 277.2,216.5 277.3,218.6 277.4,216.1 277.5,219.7 277.6,218.4 277.7,211.0 277.8,218.1 277.9,214.9 278.0,211.4 278.1,218.3 278.2,218.0 278.3,217.4 278.4,214.0 278.5,212.0 278.6,215.1 278.7,215.1 278.8,213.8 278.9,219.3 279.0,209.2 279.1,220.9 279.2,216.2 279.3,216.3 279.4,219.8 279.5,219.6 279.6,219.5 279.7,218.0 279.8,215.7 279.9,220.9 280.0,218.7 280.1,216.0 280.2,223.0 280.3,222.0 280.4,218.4 280.5,214.7 280.6,212.4 280.7,214.5 280.8,214.6 280.9,220.3 281.0,214.7 281.1,220.4 281.2,215.8 281.3,219.2 281.4,218.7 281.5,215.4 281.6,219.3 281.7,213.8 281.8,216.5 281.9,215.3 282.0,212.2 282.1,218.1 282.2,216.7 282.3,219.4 282.4,218.5 282.5,217.9 282.6,217.9 282.7,217.2 282.8,216.8 282.9,216.4 283.0,216.7 283.1,216.1 283.2,215.3 283.3,216.2 283.4,221.6 283.5,212.8 283.6,214.9 283.7,224.6 283.8,220.7 283.9,221.6 284.0,216.5 284.1,217.6 284.2,214.3 284.3,210.5 284.4,209.6 284.5,221.3 284.6,216.7 284.7,218.1 284.8,217.8 284.9,219.7 285.0,220.9 285.1,217.1 285.2,220.7 285.3,222.7 285.4,219.5 285.5,220.5 285.6,212.8 285.7,214.7 285.8,215.6 285.9,216.2 286.0,220.6 286.1,213.1 286.2,217.5 286.3,218.5 286.4,216.0 286.5,217.1 286.6,215.1 286.7,208.4 286.8,205.8 286.9,195.6 287.0,197.3 287.1,190.7 287.2,184.1 287.3,182.4 287.4,175.4 287.5,169.0 287.6,166.1 287.7,164.8 287.8,161.0 287.9,159.4 288.0,158.6 288.1,158.5 288.2,155.9 288.3,150.4 288.4,148.5 288.5,145.3 288.6,146.1 288.7,142.6 288.8,140.6 288.9,137.6 289.0,134.6 289.1,136.1 289.2,136.6 289.3,134.2 289.4,126.7 289.5,124.7 289.6,127.2 289.7,125.4 289.8,124.1 289.9,121.7 290.0,119.0 290.1,120.5 290.2,116.1 290.3,113.2 290.4,112.5 290.5,111.0 290.6,111.2 290.7,109.2 290.8,107.2 290.9,109.7 291.0,105.5 291.1,107.2 291.2,104.1 291.3,104.6 291.4,104.6 291.5,103.2 291.6,97.9 291.7,99.4 291.8,98.3 291.9,99.6 292.0,97.3 292.1,98.0 292.2,100.1 292.3,95.3 292.4,96.8 292.5,92.4 292.6,94.2 292.7,91.7 292.8,90.9 292.9,89.1 293.0,94.3 293.1,92.6 293.2,85.3 293.3,82.4 293.4,91.7 293.5,84.6 293.6,90.4 293.7,86.2 293.8,83.9 293.9,89.9 294.0,84.8 294.1,86.7 294.2,81.8 294.3,88.5 294.4,81.6 294.5,84.1 294.6,78.7 294.7,80.3 294.8,80.3 294.9,86.0 295.0,83.9 295.1,83.8 295.2,77.2 295.3,80.4 295.4,75.8 295.5,81.8 295.6,74.2 295.7,76.7 295.8,78.9 295.9,75.8 296.0,77.5 296.1,82.9 296.2,75.4 296.3,75.5 296.4,74.2 296.5,74.7 296.6,74.3 296.7,79.4 296.8,77.9 296.9,75.4 297.0,74.2 297.1,83.9 297.2,81.6 297.3,74.4 297.4,81.6 297.5,80.9 297.6,71.8 297.7,70.1 297.8,79.5 297.9,69.1 298.0,78.0 298.1,74.8 298.2,72.2 298.3,80.7 298.4,74.0 298.5,81.2 298.6,72.8 298.7,74.5 298.8,74.6 298.9,71.9 299.0,79.9 299.1,71.8 299.2,73.2 299.3,73.3 299.4,68.5 299.5,74.2 299.6,74.6 299.7,79.7 299.8,74.5 299.9,78.2 300.0,76.6 300.1,73.4 300.2,77.6 300.3,74.7 300.4,70.0 300.5,71.8 300.6,72.2 300.7,71.4 300.8,73.6 300.9,75.3 301.0,69.5 301.1,77.0 301.2,72.0 301.3,80.5 301.4,76.3 301.5,78.8 301.6,78.6 301.7,82.0 301.8,72.1 301.9,73.4 302.0,74.3 302.1,74.0 302.2,73.8 302.3,79.7 302.4,77.1 302.5,74.7 302.6,70.8 302.7,77.0 302.8,74.7 302.9,73.7 303.0,69.8 303.1,74.9 303.2,74.9 303.3,82.0 303.4,80.4 303.5,76.7 303.6,73.0 303.7,77.2 303.8,77.4 303.9,81.9 304.0,72.5 304.1,78.1 304.2,71.6 304.3,77.2 304.4,73.1 304.5,74.0 304.6,73.9 304.7,76.0 304.8,79.8 304.9,77.7 305.0,82.3 305.1,70.3 305.2,80.0 305.3,80.3 305.4,83.9 305.5,72.5 305.6,80.8 305.7,77.9 305.8,84.8 305.9,78.9 306.0,82.2 306.1,85.0 306.2,80.2 306.3,82.3 306.4,75.9 306.5,74.9 306.6,81.7 306.7,82.3 306.8,83.2 306.9,78.5 307.0,84.6 307.1,84.5 307.2,76.8 307.3,76.4 307.4,81.1 307.5,87.7 307.6,86.3 307.7,82.8 307.8,82.2 307.9,85.0 308.0,84.2 308.1,84.2 308.2,87.4 308.3,87.0 308.4,83.4 308.5,81.0 308.6,88.5 308.7,82.0 308.8,89.3 308.9,89.0 309.0,82.6 309.1,87.2 309.2,90.7 309.3,81.9 309.4,89.5 309.5,85.5 309.6,86.1 309.7,94.2 309.8,93.2 309.9,83.6 310.0,90.7 310.1,90.4 310.2,89.4 310.3,89.7 310.4,91.2 310.5,86.8 310.6,86.3 310.7,91.9 310.8,86.5 310.9,92.3 311.0,88.3 311.1,87.0 311.2,89.0 311.3,88.0 311.4,91.9 311.5,95.5 311.6,92.9 311.7,90.0 311.8,90.9 311.9,93.0 312.0,90.2 312.1,91.7 312.2,99.7 312.3,99.7 312.4,93.8 312.5,94.1 312.6,100.3 312.7,93.0 312.8,98.0 312.9,99.2 313.0,96.6 313.1,102.5 313.2,97.0 313.3,99.5 313.4,101.7 313.5,103.4 313.6,97.7 313.7,103.1 313.8,100.3 313.9,100.3 314.0,102.8 314.1,104.8 314.2,103.2 314.3,100.0 314.4,101.8 314.5,103.7 314.6,99.3 314.7,108.2 314.8,101.8 314.9,97.1 315.0,102.1 315.1,102.4 315.2,99.8 315.3,102.6 315.4,102.9 315.5,106.9 315.6,106.7 315.7,112.8 315.8,105.6 315.9,101.9 316.0,107.4 316.1,109.2 316.2,105.0 316.3,103.4 316.4,106.6 316.5,110.8 316.6,113.2 316.7,112.0 316.8,111.1 316.9,108.1 317.0,114.3 317.1,112.3 317.2,112.0 317.3,111.3 317.4,110.1 317.5,115.7 317.6,113.3 317.7,112.4 317.8,113.9 317.9,114.3 318.0,112.5 318.1,117.1 318.2,115.4 318.3,110.1 318.4,114.2 318.5,112.5 318.6,111.1 318.7,119.9 318.8,116.9 318.9,113.7 319.0,115.6 319.1,114.1 319.2,120.1 319.3,115.9 319.4,117.3 319.5,121.0 319.6,117.2 319.7,114.1 319.8,117.5 319.9,117.7 320.0,119.2 320.1,119.5 320.2,117.3 320.3,120.6 320.4,122.3 320.5,120.9 320.6,120.5 320.7,123.2 320.8,124.4 320.9,117.9 321.0,125.1 321.1,122.3 321.2,125.3 321.3,124.2 321.4,128.1 321.5,127.5 321.6,118.8 321.7,124.8 321.8,127.2 321.9,125.1 322.0,128.6 322.1,123.9 322.2,121.7 322.3,124.5 322.4,126.9 322.5,123.3 322.6,125.3 322.7,130.7 322.8,126.9 322.9,125.4 323.0,128.5 323.1,130.9 323.2,132.9 323.3,130.8 323.4,124.1 323.5,132.5 323.6,129.2 323.7,124.8 323.8,131.0 323.9,126.4 324.0,127.5 324.1,131.2 324.2,134.2 324.3,128.8 324.4,133.1 324.5,127.9 324.6,133.6 324.7,131.8 324.8,133.8 324.9,137.3 325.0,134.1 325.1,136.7 325.2,138.6 325.3,139.2 325.4,134.3 325.5,134.6 325.6,132.7 325.7,137.3 325.8,142.0 325.9,137.4 326.0,134.8 326.1,136.0 326.2,141.4 326.3,135.0 326.4,141.2 326.5,140.4 326.6,136.0 326.7,143.3 326.8,142.0 326.9,140.5 327.0,143.5 327.1,140.3 327.2,143.7 327.3,139.8 327.4,141.5 327.5,145.7 327.6,137.8 327.7,143.6 327.8,144.1 327.9,146.9 328.0,143.5 328.1,142.8 328.2,141.9 328.3,143.1 328.4,147.3 328.5,141.2 328.6,143.2 328.7,140.9 328.8,143.6 328.9,144.4 329.0,142.5 329.1,144.0 329.2,148.7 329.3,149.4 329.4,144.4 329.5,144.1 329.6,145.8 329.7,148.7 329.8,147.1 329.9,146.9 330.0,145.7 330.1,147.2 330.2,151.6 330.3,151.4 330.4,146.7 330.5,151.6 330.6,151.3 330.7,148.6 330.8,149.7 330.9,152.9 331.0,146.2 331.1,153.5 331.2,148.8 331.3,148.8 331.4,148.5 331.5,149.9 331.6,152.3 331.7,151.9 331.8,148.3 331.9,152.9 332.0,150.6 332.1,149.3 332.2,150.1 332.3,153.3 332.4,155.0 332.5,153.1 332.6,149.3 332.7,155.3 332.8,154.8 332.9,151.5 333.0,155.4 333.1,156.7 333.2,157.7 333.3,154.9 333.4,154.4 333.5,156.6 333.6,152.5 333.7,156.2 333.8,162.2 333.9,154.9 334.0,158.5 334.1,155.8 334.2,157.6 334.3,159.1 334.4,155.6 334.5,157.4 334.6,156.8 334.7,158.0 334.8,159.7 334.9,160.9 335.0,160.7 335.1,159.7 335.2,158.4 335.3,157.0 335.4,158.1 335.5,158.8 335.6,159.1 335.7,159.7 335.8,157.9 335.9,162.4 336.0,159.3 336.1,159.7 336.2,161.2 336.3,162.5 336.4,165.1 336.5,159.8 336.6,159.1 336.7,159.2 336.8,164.3 336.9,163.1 337.0,166.7 337.1,161.9 337.2,165.7 337.3,164.6 337.4,163.5 337.5,168.9 337.6,164.0 337.7,160.6 337.8,167.1 337.9,167.7 338.0,164.2 338.1,170.5 338.2,161.1 338.3,163.4 338.4,163.5 338.5,165.6 338.6,165.8 338.7,170.3 338.8,163.9 338.9,168.7 339.0,165.0 339.1,171.2 339.2,173.5 339.3,171.5 339.4,165.4 339.5,166.0 339.6,170.1 339.7,169.6 339.8,166.4 339.9,172.1 340.0,164.2 340.1,173.7 340.2,173.9 340.3,170.8 340.4,170.0 340.5,167.9 340.6,169.7 340.7,171.7 340.8,171.9 340.9,172.6 341.0,176.8 341.1,171.6 341.2,171.1 341.3,176.6 341.4,171.2 341.5,172.4 341.6,175.6 341.7,174.8 341.8,174.6 341.9,172.8 342.0,171.4 342.1,175.2 342.2,176.7 342.3,176.2 342.4,176.1 342.5,174.0 342.6,174.7 342.7,174.6 342.8,172.0 342.9,173.9 343.0,173.6 343.1,179.5 343.2,181.4 343.3,176.3 343.4,174.4 343.5,174.8 343.6,179.2 343.7,177.7 343.8,180.3 343.9,182.8 344.0,181.9 344.1,177.5 344.2,176.3 344.3,176.4 344.4,183.8 344.5,181.5 344.6,179.0 344.7,183.7 344.8,179.7 344.9,179.8 345.0,177.4 345.1,180.7 345.2,179.3 345.3,181.9 345.4,179.4 345.5,177.8 345.6,179.6 345.7,177.4 345.8,178.1 345.9,178.2 346.0,177.4 346.1,185.9 346.2,178.1 346.3,180.7 346.4,186.7 346.5,180.3 346.6,184.1 346.7,186.8 346.8,182.6 346.9,184.1 347.0,190.1 347.1,181.3 347.2,183.4 347.3,186.0 347.4,182.8 347.5,188.2 347.6,188.6 347.7,185.5 347.8,186.3 347.9,183.6 348.0,186.4 348.1,186.6 348.2,182.3 348.3,186.1 348.4,184.7 348.5,187.5 348.6,187.4 348.7,182.2 348.8,191.3 348.9,189.5 349.0,191.5 349.1,182.3 349.2,191.0 349.3,187.8 349.4,188.0 349.5,187.5 349.6,188.3 349.7,185.7 349.8,183.4 349.9,185.0 350.0,185.3 350.1,186.4 350.2,186.2 350.3,189.6 350.4,191.4 350.5,186.9 350.6,185.2 350.7,185.4 350.8,191.4 350.9,188.6 351.0,186.2 351.1,193.6 351.2,191.1 351.3,191.4 351.4,192.2 351.5,191.7 351.6,191.0 351.7,192.0 351.8,188.5 351.9,193.9 352.0,190.4 352.1,191.8 352.2,186.8 352.3,189.1 352.4,188.4 352.5,195.6 352.6,190.9 352.7,190.6 352.8,190.0 352.9,196.7 353.0,190.1 353.1,190.9 353.2,197.8 353.3,195.4 353.4,193.7 353.5,189.5 353.6,189.6 353.7,193.8 353.8,195.8 353.9,189.8 354.0,192.2 354.1,190.6 354.2,197.2 354.3,193.1 354.4,187.7 354.5,198.8 354.6,194.8 354.7,196.7 354.8,190.9 354.9,192.4 355.0,198.7 355.1,191.5 355.2,195.5 355.3,201.8 355.4,189.0 355.5,194.2 355.6,197.9 355.7,201.0 355.8,196.9 355.9,201.3 356.0,196.6 356.1,192.2 356.2,196.4 356.3,200.6 356.4,196.8 356.5,197.7 356.6,195.9 356.7,200.9 356.8,199.8 356.9,192.4 357.0,194.9 357.1,196.3 357.2,191.7 357.3,202.2 357.4,203.2 357.5,197.3 357.6,197.0 357.7,201.5 357.8,194.2 357.9,199.7 358.0,206.1 358.1,198.9 358.2,199.5 358.3,203.1 358.4,205.7 358.5,197.9 358.6,200.7 358.7,199.1 358.8,200.7 358.9,202.6 359.0,196.5 359.1,204.4 359.2,200.4 359.3,199.1 359.4,201.1 359.5,195.6 359.6,204.9 359.7,197.9 359.8,199.5 359.9,200.9 360.0,205.6 360.1,195.5 360.2,198.9 360.3,197.7 360.4,199.3 360.5,202.6 360.6,200.3 360.7,196.6 360.8,205.8 360.9,198.1 361.0,201.8 361.1,202.8 361.2,206.0 361.3,205.7 361.4,205.4 361.5,205.1 361.6,202.0 361.7,202.7 361.8,203.4 361.9,201.6 362.0,201.8 362.1,202.0 362.2,197.7 362.3,208.6 362.4,203.2 362.5,199.6 362.6,204.8 362.7,203.9 362.8,207.6 362.9,209.1 363.0,198.7 363.1,200.4 363.2,205.2 363.3,204.7 363.4,210.4 363.5,205.0 363.6,205.3 363.7,207.7 363.8,207.3 363.9,204.9 364.0,206.7 364.1,202.8 364.2,203.3 364.3,204.0 364.4,202.3 364.5,208.7 364.6,206.1 364.7,210.7 364.8,208.4 364.9,210.4 365.0,210.6 365.1,203.8 365.2,205.6 365.3,208.8 365.4,203.7 365.5,204.9 365.6,210.9 365.7,202.6 365.8,203.2 365.9,203.5 366.0,203.0 366.1,201.7 366.2,208.0 366.3,206.1 366.4,203.3 366.5,206.3 366.6,204.9 366.7,207.9 366.8,206.1 366.9,211.4 367.0,207.7 367.1,208.0 367.2,206.4 367.3,207.9 367.4,210.6 367.5,209.3 367.6,205.3 367.7,205.8 367.8,213.5 367.9,207.7 368.0,210.6 368.1,206.9 368.2,207.6 368.3,205.6 368.4,206.5 368.5,209.1 368.6,213.6 368.7,207.7 368.8,212.3 368.9,209.5 369.0,211.0 369.1,205.6 369.2,213.2 369.3,211.4 369.4,209.1 369.5,212.8 369.6,206.8 369.7,207.8 369.8,213.0 369.9,210.9 370.0,214.9 370.1,210.2 370.2,211.5 370.3,213.6 370.4,207.9 370.5,215.2 370.6,209.0 370.7,213.9 370.8,206.7 370.9,211.3 371.0,211.5 371.1,208.7 371.2,205.7 371.3,210.7 371.4,212.3 371.5,215.5 371.6,212.3 371.7,212.2 371.8,213.7 371.9,214.8 372.0,210.2 372.1,213.8 372.2,210.1 372.3,215.0 372.4,209.5 372.5,212.4 372.6,212.6 372.7,212.7 372.8,210.7 372.9,213.4 373.0,215.2 373.1,207.0 373.2,211.9 373.3,209.0 373.4,208.8 373.5,211.6 373.6,210.3 373.7,208.1 373.8,214.3 373.9,217.0 374.0,216.2 374.1,213.6 374.2,213.4 374.3,219.2 374.4,208.5 374.5,219.6 374.6,217.7 374.7,214.1 374.8,214.2 374.9,213.7 375.0,217.1 375.1,211.7 375.2,218.7 375.3,211.1 375.4,209.8 375.5,209.3 375.6,212.2 375.7,213.2 375.8,216.0 375.9,213.7 376.0,212.5 376.1,214.8 376.2,210.4 376.3,210.6 376.4,217.5 376.5,215.7 376.6,211.8 376.7,219.2 376.8,214.1 376.9,215.7 377.0,218.1 377.1,218.0 377.2,214.7 377.3,216.1 377.4,218.2 377.5,214.8 377.6,217.0 377.7,217.9 377.8,222.4 377.9,216.2 378.0,212.4 378.1,215.9 378.2,213.7 378.3,215.7 378.4,221.3 378.5,212.9 378.6,219.6 378.7,211.9 378.8,214.6 378.9,214.4 379.0,221.8 379.1,212.7 379.2,215.4 379.3,214.4 379.4,214.8 379.5,215.4 379.6,215.7 379.7,214.3 379.8,216.5 379.9,218.0 380.0,223.1 380.1,219.2 380.2,210.0 380.3,215.7 380.4,222.0 380.5,218.0 380.6,221.4 380.7,219.3 380.8,211.2 380.9,215.1 381.0,214.5 381.1,218.6 381.2,223.0 381.3,214.7 381.4,223.0 381.5,219.4 381.6,218.0 381.7,218.9 381.8,224.1 381.9,216.1 382.0,213.5 382.1,220.0 382.2,216.4 382.3,222.5 382.4,216.4 382.5,216.0 382.6,220.6 382.7,216.1 382.8,222.1 382.9,210.9 383.0,223.1 383.1,224.0 383.2,221.0 383.3,216.1 383.4,214.7 383.5,218.3 383.6,217.6 383.7,221.4 383.8,224.1 383.9,224.3 384.0,221.0 384.1,226.5 384.2,222.1 384.3,222.8 384.4,221.7 384.5,220.3 384.6,214.0 384.7,216.3 384.8,216.3 384.9,223.9 385.0,219.2 385.1,221.3 385.2,221.7 385.3,222.4 385.4,218.6 385.5,222.0 385.6,218.2 385.7,219.9 385.8,218.0 385.9,225.1 386.0,220.1 386.1,218.6 386.2,225.6 386.3,223.4 386.4,227.4 386.5,219.0 386.6,224.5 386.7,213.8 386.8,219.1 386.9,223.1 387.0,220.6 387.1,218.1 387.2,219.0 387.3,221.9 387.4,221.5 387.5,218.6 387.6,219.6 387.7,218.4 387.8,220.4 387.9,221.0 388.0,220.5 388.1,220.0 388.2,225.3 388.3,219.4 388.4,223.6 388.5,218.2 388.6,224.8 388.7,222.4 388.8,223.3 388.9,218.5 389.0,221.9 389.1,227.1 389.2,221.1 389.3,225.1 389.4,215.6 389.5,223.4 389.6,223.7 389.7,222.1 389.8,218.6 389.9,225.2 390.0,224.6 390.1,217.4 390.2,220.9 390.3,220.0 390.4,223.6 390.5,217.4 390.6,219.4 390.7,220.3 390.8,222.0 390.9,225.6 391.0,223.1 391.1,223.4 391.2,224.0 391.3,219.0 391.4,220.9 391.5,225.2 391.6,221.2 391.7,221.6 391.8,221.7 391.9,222.5 392.0,220.4 392.1,219.3 392.2,217.5 392.3,219.5 392.4,224.3 392.5,221.0 392.6,223.0 392.7,222.3 392.8,218.8 392.9,218.6 393.0,221.7 393.1,224.2 393.2,219.1 393.3,223.4 393.4,218.7 393.5,222.1 393.6,224.5 393.7,221.1 393.8,225.5 393.9,218.3 394.0,224.2 394.1,225.1 394.2,218.8 394.3,223.9 394.4,224.5 394.5,224.5 394.6,224.8 394.7,221.2 394.8,223.5 394.9,223.3 395.0,224.8 395.1,224.1 395.2,223.8 395.3,223.6 395.4,222.4 395.5,222.2 395.6,221.7 395.7,226.4 395.8,223.0 395.9,226.1 396.0,223.0 396.1,216.6 396.2,222.9 396.3,226.7 396.4,218.8 396.5,220.2 396.6,219.8 396.7,227.4 396.8,222.7 396.9,224.9 397.0,222.9 397.1,226.8 397.2,220.4 397.3,220.0 397.4,222.6 397.5,223.2 397.6,221.4 397.7,223.0 397.8,223.3 397.9,228.6 398.0,225.2 398.1,220.1 398.2,221.2 398.3,222.3 398.4,227.8 398.5,228.0 398.6,225.5 398.7,226.5 398.8,219.7 398.9,224.0 399.0,225.1 399.1,225.5 399.2,220.7 399.3,223.2 399.4,225.1 399.5,223.9 399.6,219.6 399.7,225.4 399.8,224.8 399.9,223.0 400.0,223.0 400.1,220.8 400.2,225.9 400.3,226.0 400.4,225.1 400.5,223.1 400.6,223.3 400.7,223.6 400.8,226.3 400.9,226.5 401.0,230.1 401.1,224.8 401.2,221.0 401.3,224.6 401.4,224.0 401.5,226.7 401.6,224.9 401.7,220.6 401.8,227.1 401.9,223.8 402.0,225.6 402.1,230.1 402.2,221.8 402.3,224.6 402.4,225.9 402.5,225.0 402.6,225.8 402.7,229.6 402.8,230.3 402.9,220.3 403.0,225.4 403.1,224.7 403.2,227.7 403.3,227.2 403.4,230.5 403.5,225.3 403.6,228.0 403.7,223.1 403.8,229.1 403.9,220.4 404.0,230.0 404.1,224.8 404.2,230.0 404.3,225.1 404.4,225.7 404.5,222.4 404.6,226.2 404.7,225.5 404.8,222.2 404.9,224.7 405.0,221.5 405.1,221.1 405.2,227.8 405.3,226.3 405.4,223.9 405.5,226.1 405.6,220.9 405.7,223.1 405.8,226.0 405.9,226.0 406.0,227.3 406.1,227.0 406.2,225.9 406.3,227.0 406.4,229.4 406.5,222.7 406.6,223.2 406.7,223.7 406.8,223.7 406.9,224.1 407.0,228.1 407.1,225.8 407.2,228.6 407.3,230.6 407.4,226.6 407.5,231.4 407.6,231.2 407.7,226.4 407.8,227.7 407.9,225.9 408.0,227.2 408.1,223.2 408.2,230.3 408.3,225.4 408.4,227.7 408.5,226.9 408.6,231.5 408.7,223.8 408.8,226.4 408.9,227.6 409.0,226.8 409.1,225.0 409.2,224.2 409.3,230.2 409.4,228.1 409.5,231.3 409.6,227.1 409.7,226.6 409.8,229.0 409.9,227.7 410.0,227.0 410.1,226.5 410.2,223.1 410.3,229.2 410.4,222.8 410.5,228.3 410.6,223.8 410.7,226.4 410.8,225.9 410.9,224.3 411.0,225.0 411.1,233.0 411.2,223.3 411.3,225.8 411.4,227.5 411.5,227.4 411.6,227.6 411.7,228.7 411.8,230.8 411.9,226.6 412.0,223.3 412.1,223.0 412.2,227.8 412.3,223.4 412.4,232.6 412.5,230.9 412.6,228.4 412.7,224.9 412.8,221.7 412.9,230.9 413.0,230.8 413.1,227.5 413.2,231.2 413.3,228.7 413.4,230.3 413.5,232.5 413.6,228.4 413.7,226.4 413.8,223.6 413.9,230.1 414.0,229.0 414.1,226.2 414.2,226.5 414.3,229.3 414.4,230.3 414.5,225.7 414.6,224.9 414.7,224.3 414.8,226.8 414.9,225.9 415.0,233.7 415.1,229.0 415.2,229.6 415.3,231.6 415.4,230.1 415.5,229.1 415.6,226.6 415.7,224.5 415.8,227.6 415.9,231.4 416.0,229.9 416.1,226.7 416.2,231.7 416.3,225.5 416.4,233.6 416.5,231.5 416.6,227.1 416.7,233.6 416.8,233.0 416.9,225.4 417.0,228.0 417.1,224.6 417.2,224.1 417.3,225.6 417.4,233.7 417.5,228.6 417.6,226.8 417.7,231.9 417.8,230.6 417.9,229.9 418.0,226.5 418.1,227.1 418.2,224.3 418.3,230.4 418.4,226.5 418.5,230.2 418.6,228.7 418.7,232.1 418.8,234.7 418.9,230.9 419.0,224.8 419.1,225.2 419.2,233.0 419.3,228.9 419.4,229.2 419.5,228.0 419.6,231.6 419.7,226.8 419.8,230.1 419.9,230.6 420.0,227.6 420.1,227.5 420.2,227.9 420.3,228.7 420.4,232.9 420.5,225.4 420.6,229.8 420.7,228.1 420.8,224.7 420.9,232.4 421.0,229.0 421.1,228.0 421.2,230.1 421.3,231.8 421.4,229.2 421.5,228.5 421.6,226.5 421.7,227.6 421.8,226.1 421.9,231.6 422.0,230.2 422.1,228.7 422.2,234.4 422.3,228.6 422.4,230.9 422.5,232.0 422.6,234.5 422.7,228.7 422.8,230.8 422.9,232.5 423.0,231.4 423.1,226.6 423.2,232.9 423.3,230.1 423.4,225.0 423.5,229.0 423.6,231.1 423.7,234.1 423.8,226.8 423.9,225.4 424.0,228.2 424.1,225.7 424.2,229.0 424.3,231.1 424.4,226.3 424.5,233.1 424.6,232.8 424.7,229.8 424.8,225.5 424.9,226.9 425.0,225.6 425.1,230.0 425.2,226.6 425.3,230.1 425.4,226.4 425.5,230.1 425.6,231.9 425.7,231.0 425.8,225.3 425.9,228.7 426.0,228.0 426.1,233.0 426.2,229.7 426.3,237.0 426.4,233.8 426.5,229.1 426.6,233.5 426.7,230.9 426.8,227.1 426.9,225.2 427.0,225.8 427.1,231.7 427.2,231.6 427.3,230.0 427.4,230.4 427.5,229.3 427.6,223.5 427.7,233.9 427.8,228.0 427.9,231.5 428.0,228.4 428.1,230.3 428.2,229.8 428.3,229.0 428.4,231.9 428.5,228.3 428.6,230.7 428.7,229.0 428.8,235.0 428.9,233.4 429.0,228.9 429.1,225.0 429.2,230.0 429.3,233.2 429.4,229.3 429.5,226.7 429.6,235.3 429.7,226.3 429.8,233.3 429.9,232.2 430.0,224.1 430.1,231.3 430.2,229.2 430.3,232.4 430.4,228.1 430.5,233.8 430.6,225.7 430.7,228.9 430.8,236.8 430.9,230.2 431.0,228.0 431.1,234.9 431.2,229.0 431.3,231.1 431.4,232.7 431.5,229.1 431.6,225.7 431.7,229.4 431.8,230.4 431.9,226.8 432.0,232.8 432.1,232.0 432.2,223.8 432.3,229.5 432.4,234.8 432.5,228.9 432.6,234.4 432.7,224.6 432.8,234.2 432.9,230.1 433.0,232.5 433.1,234.5 433.2,228.7 433.3,232.9 433.4,224.3 433.5,227.6 433.6,230.8 433.7,230.7 433.8,226.4 433.9,228.4 434.0,231.1 434.1,233.6 434.2,225.7 434.3,229.0 434.4,232.6 434.5,226.5 434.6,234.4 434.7,230.5 434.8,233.2 434.9,229.3 435.0,225.5 435.1,229.0 435.2,233.3 435.3,232.7 435.4,230.9 435.5,222.7 435.6,226.2 435.7,227.7 435.8,226.2 435.9,226.1 436.0,228.8 436.1,228.6 436.2,229.2 436.3,229.7 436.4,231.9 436.5,229.8 436.6,231.2 436.7,227.3 436.8,226.0 436.9,226.5 437.0,227.0 437.1,227.0 437.2,225.7 437.3,229.0 437.4,232.9 437.5,229.0 437.6,229.6 437.7,226.1 437.8,225.0 437.9,230.2 438.0,229.1 438.1,230.0 438.2,230.3 438.3,235.6 438.4,227.6 438.5,230.7 438.6,227.1 438.7,232.8 438.8,230.1 438.9,224.2 439.0,231.7 439.1,234.9 439.2,231.9 439.3,226.6 439.4,226.5 439.5,228.5 439.6,231.1 439.7,228.7 439.8,231.0 439.9,226.9 440.0,228.6 440.1,232.4 440.2,229.6 440.3,232.3 440.4,226.0 440.5,232.8 440.6,232.7 440.7,231.0 440.8,235.3 440.9,229.3 441.0,229.1 441.1,224.9 441.2,223.6 441.3,232.1 441.4,232.4 441.5,225.2 441.6,230.2 441.7,233.1 441.8,229.0 441.9,232.3 442.0,225.5 442.1,229.5 442.2,230.6 442.3,231.0 442.4,230.0 442.5,225.8 442.6,233.4 442.7,229.3 442.8,229.6 442.9,226.9 443.0,230.6 443.1,231.4 443.2,230.8 443.3,234.1 443.4,230.5 443.5,226.5 443.6,234.9 443.7,231.7 443.8,226.9 443.9,230.4 444.0,228.9 444.1,235.4 444.2,223.4 444.3,233.0 444.4,227.0 444.5,229.3 444.6,233.3 444.7,227.5 444.8,229.9 444.9,230.6 445.0,234.0 445.1,229.7 445.2,231.6 445.3,226.1 445.4,226.6 445.5,230.8 445.6,229.3 445.7,230.4 445.8,231.6 445.9,231.7 446.0,225.0 446.1,227.6 446.2,225.8 446.3,230.3 446.4,231.2 446.5,234.2 446.6,229.6 446.7,230.9 446.8,228.5 446.9,228.1 447.0,223.4 447.1,230.6 447.2,232.5 447.3,229.7 447.4,227.3 447.5,222.9 447.6,231.4 447.7,231.5 447.8,227.0 447.9,233.2 448.0,226.2 448.1,232.1 448.2,228.7 448.3,228.3 448.4,233.5 448.5,229.9 448.6,232.3 448.7,231.4 448.8,225.2 448.9,230.2 449.0,236.2 449.1,231.1 449.2,227.9 449.3,235.1 449.4,235.0 449.5,226.0 449.6,232.0 449.7,233.5 449.8,236.2 449.9,233.7 450.0,229.7 450.1,229.8 450.2,232.8 450.3,230.8 450.4,228.9 450.5,227.8 450.6,235.6 450.7,233.9 450.8,231.5 450.9,232.4 451.0,228.0 451.1,238.3 451.2,236.5 451.3,227.8 451.4,235.7 451.5,230.0 451.6,228.7 451.7,235.6 451.8,233.1 451.9,230.6 452.0,229.7 452.1,228.7 452.2,231.6 452.3,232.7 452.4,229.5 452.5,226.6 452.6,229.7 452.7,230.0 452.8,238.6 452.9,230.4 453.0,231.6 453.1,233.3 453.2,231.2 453.3,228.0 453.4,232.5 453.5,227.6 453.6,227.6 453.7,232.0 453.8,233.5 453.9,226.2 454.0,235.4 454.1,228.9 454.2,228.1 454.3,230.9 454.4,225.4 454.5,236.6 454.6,235.8 454.7,232.8 454.8,225.8 454.9,228.2 455.0,235.8 455.1,234.8 455.2,231.6 455.3,231.6 455.4,233.2 455.5,233.7 455.6,226.7 455.7,227.7 455.8,234.0 455.9,229.0 456.0,230.4 456.1,233.3 456.2,226.9 456.3,226.8 456.4,233.7 456.5,234.7 456.6,236.8 456.7,233.8 456.8,233.3 456.9,228.1 457.0,232.3 457.1,227.8 457.2,230.9 457.3,228.5 457.4,226.9 457.5,231.3 457.6,234.9 457.7,233.8 457.8,235.6 457.9,231.5 458.0,227.3 458.1,228.2 458.2,228.2 458.3,230.7 458.4,230.7 458.5,232.2 458.6,231.8 458.7,235.8 458.8,230.9 458.9,230.8 459.0,231.8 459.1,229.8 459.2,234.9 459.3,234.4 459.4,229.9 459.5,231.4 459.6,227.4 459.7,236.9 459.8,232.1 459.9,234.2 460.0,236.3 460.1,235.3 460.2,230.9 460.3,227.7 460.4,236.7 460.5,224.9 460.6,236.1 460.7,227.0 460.8,231.9 460.9,234.9 461.0,230.6 461.1,236.9 461.2,227.0 461.3,233.1 461.4,228.8 461.5,234.3 461.6,227.3 461.7,238.4 461.8,229.5 461.9,229.3 462.0,228.3 462.1,230.5 462.2,227.7 462.3,234.1 462.4,227.4 462.5,228.8 462.6,228.4 462.7,228.7 462.8,231.1 462.9,232.1 463.0,234.5 463.1,238.6 463.2,233.1 463.3,230.4 463.4,229.8 463.5,227.1 463.6,232.3 463.7,233.9 463.8,231.3 463.9,229.6 464.0,231.1 464.1,233.3 464.2,231.0 464.3,236.1 464.4,230.8 464.5,229.1 464.6,227.6 464.7,231.8 464.8,236.0 464.9,232.4 465.0,229.2 465.1,232.7 465.2,230.9 465.3,229.2 465.4,232.5 465.5,231.3 465.6,228.3 465.7,234.8 465.8,235.1 465.9,235.6 466.0,231.8 466.1,227.5 466.2,228.9 466.3,229.3 466.4,227.5 466.5,234.8 466.6,233.1 466.7,233.3 466.8,229.6 466.9,234.7 467.0,233.7 467.1,229.4 467.2,231.2 467.3,230.7 467.4,231.4 467.5,237.2 467.6,232.9 467.7,233.9 467.8,228.7 467.9,236.3 468.0,233.9 468.1,227.2 468.2,235.1 468.3,232.5 468.4,231.7 468.5,229.5 468.6,231.1 468.7,230.5 468.8,236.3 468.9,233.5 469.0,234.9 469.1,230.2 469.2,229.6 469.3,235.2 469.4,228.8 469.5,236.7 469.6,230.2 469.7,226.7 469.8,228.5 469.9,227.6 470.0,231.9 470.1,227.5 470.2,227.2 470.3,232.0 470.4,230.5 470.5,235.0 470.6,236.5 470.7,229.7 470.8,227.0 470.9,233.5 471.0,233.0 471.1,230.5 471.2,232.2 471.3,227.1 471.4,235.8 471.5,232.7 471.6,227.2 471.7,230.6 471.8,232.2 471.9,231.5 472.0,233.0 472.1,236.4 472.2,233.6 472.3,230.8 472.4,228.0 472.5,233.4 472.6,228.0 472.7,232.9 472.8,229.9 472.9,238.9 473.0,229.5 473.1,232.9 473.2,229.9 473.3,229.2 473.4,231.5 473.5,229.6 473.6,229.1 473.7,231.6 473.8,234.1 473.9,232.4 474.0,235.1 474.1,229.3 474.2,233.5 474.3,231.7 474.4,231.9 474.5,235.7 474.6,234.7 474.7,231.2 474.8,229.8 474.9,228.3 475.0,229.2 475.1,226.5 475.2,231.2 475.3,236.5 475.4,230.8 475.5,231.3 475.6,226.8 475.7,234.6 475.8,236.1 475.9,231.6 476.0,232.9 476.1,234.4 476.2,230.1 476.3,231.6 476.4,231.1 476.5,234.2 476.6,230.3 476.7,231.8 476.8,231.5 476.9,230.5 477.0,227.7 477.1,230.5 477.2,234.1 477.3,232.1 477.4,227.3 477.5,233.0 477.6,236.3 477.7,234.5 477.8,231.4 477.9,230.8 478.0,230.9 478.1,233.3 478.2,233.4 478.3,231.6 478.4,231.3 478.5,232.2 478.6,233.0 478.7,234.2 478.8,232.7 478.9,233.0 479.0,232.3 479.1,230.2 479.2,233.9 479.3,229.5 479.4,230.7 479.5,235.2 479.6,232.3 479.7,230.3 479.8,227.7 479.9,232.2 480.0,234.3 480.1,227.2 480.2,228.5 480.3,235.0 480.4,232.5 480.5,227.2 480.6,236.1 480.7,235.9 480.8,228.0 480.9,229.5 481.0,230.6 481.1,226.7 481.2,231.7 481.3,234.1 481.4,229.3 481.5,228.2 481.6,235.7 481.7,233.8 481.8,226.4 481.9,232.0 482.0,231.4 482.1,224.7 482.2,235.0 482.3,232.5 482.4,232.7 482.5,231.3 482.6,229.3 482.7,229.5 482.8,235.4 482.9,233.7 483.0,227.8 483.1,230.2 483.2,235.2 483.3,232.3 483.4,232.9 483.5,234.1 483.6,232.7 483.7,232.7 483.8,226.5 483.9,232.7 484.0,234.1 484.1,227.8 484.2,230.8 484.3,233.0 484.4,226.5 484.5,232.5 484.6,234.7 484.7,226.0 484.8,231.8 484.9,226.5 485.0,235.4 485.1,226.3 485.2,232.9 485.3,227.3 485.4,235.2 485.5,230.8 485.6,232.6 485.7,226.3 485.8,230.8 485.9,230.7 486.0,227.2 486.1,229.5 486.2,230.7 486.3,234.4 486.4,231.3 486.5,232.9 486.6,231.8 486.7,226.7 486.8,230.6 486.9,233.8 487.0,227.5 487.1,226.5 487.2,228.5 487.3,232.4 487.4,227.6 487.5,230.3 487.6,232.4 487.7,228.5 487.8,227.2 487.9,234.9 488.0,235.1 488.1,235.0 488.2,228.3 488.3,231.3 488.4,233.7 488.5,231.3 488.6,235.2 488.7,232.8 488.8,229.1 488.9,229.6 489.0,227.3 489.1,232.3 489.2,232.5 489.3,235.1 489.4,229.9 489.5,226.5 489.6,234.9 489.7,233.0 489.8,231.8 489.9,228.6 490.0,228.2 490.1,234.6 490.2,230.8 490.3,229.9 490.4,225.7 490.5,231.0 490.6,233.7 490.7,230.6 490.8,228.6 490.9,231.3 491.0,231.5 491.1,228.2 491.2,234.3 491.3,236.6 491.4,223.4 491.5,233.6 491.6,226.6 491.7,232.3 491.8,229.5 491.9,228.9 492.0,234.6 492.1,229.0 492.2,229.4 492.3,232.2 492.4,231.0 492.5,234.6 492.6,234.2 492.7,226.8 492.8,235.0 492.9,230.7 493.0,224.0 493.1,227.4 493.2,231.8 493.3,227.5 493.4,231.0 493.5,232.9 493.6,227.2 493.7,224.5 493.8,230.3 493.9,231.9 494.0,231.4 494.1,224.6 494.2,231.9 494.3,231.3 494.4,234.9 494.5,232.0 494.6,229.6 494.7,229.4 494.8,225.4 494.9,229.0 495.0,234.2 495.1,230.3 495.2,236.0 495.3,234.6 495.4,234.1 495.5,234.7 495.6,233.3 495.7,230.5 495.8,230.0 495.9,232.0 496.0,234.5 496.1,226.9 496.2,231.1 496.3,230.5 496.4,230.9 496.5,228.2 496.6,225.5 496.7,226.5 496.8,234.1 496.9,233.8 497.0,230.4 497.1,232.9 497.2,224.8 497.3,228.3 497.4,232.9 497.5,227.3 497.6,232.4 497.7,228.8 497.8,228.6 497.9,225.8 498.0,226.3 498.1,228.4 498.2,230.8 498.3,232.0 498.4,230.3 498.5,230.1 498.6,232.3 498.7,224.5 498.8,227.2 498.9,231.5 499.0,234.2 499.1,230.8 499.2,227.6 499.3,231.6 499.4,226.4 499.5,232.4 499.6,230.2 499.7,228.7 499.8,227.2 499.9,229.0 500.0,229.5 500.1,226.3 500.2,233.6 500.3,231.0 500.4,232.6 500.5,225.9 500.6,227.9 500.7,225.2 500.8,225.9 500.9,231.5 501.0,224.5 501.1,233.8 501.2,233.4 501.3,230.4 501.4,229.1 501.5,230.8 501.6,228.8 501.7,228.9 501.8,233.4 501.9,228.1 502.0,234.7 502.1,225.0 502.2,233.3 502.3,230.3 502.4,227.9 502.5,225.0 502.6,233.0 502.7,226.9 502.8,226.9 502.9,229.3 503.0,231.6 503.1,228.1 503.2,221.3 503.3,234.6 503.4,230.6 503.5,229.4 503.6,228.5 503.7,233.7 503.8,228.2 503.9,231.4 504.0,234.7 504.1,229.4 504.2,230.2 504.3,226.7 504.4,230.4 504.5,230.6 504.6,227.5 504.7,232.1 504.8,229.5 504.9,226.2 505.0,227.5 505.1,225.7 505.2,230.2 505.3,227.8 505.4,229.6 505.5,230.7 505.6,226.7 505.7,232.8 505.8,226.2 505.9,221.9 506.0,225.1 506.1,223.3 506.2,229.1 506.3,223.8 506.4,228.4 506.5,229.2 506.6,231.9 506.7,233.8 506.8,227.9 506.9,225.0 507.0,230.6 507.1,228.8 507.2,229.9 507.3,234.0 507.4,232.1 507.5,234.0 507.6,228.8 507.7,226.8 507.8,233.7 507.9,233.4 508.0,225.6 508.1,229.9 508.2,221.7 508.3,232.2 508.4,228.1 508.5,234.0 508.6,228.2 508.7,231.0 508.8,230.7 508.9,228.3 509.0,231.2 509.1,225.6 509.2,226.9 509.3,226.8 509.4,229.8 509.5,229.4 509.6,227.6 509.7,235.9 509.8,227.4 509.9,227.2 510.0,225.4 510.1,232.5 510.2,228.8 510.3,234.1 510.4,228.1 510.5,231.5 510.6,232.9 510.7,226.9 510.8,225.5 510.9,232.0 511.0,231.0 511.1,228.6 511.2,228.4 511.3,230.7 511.4,223.9 511.5,226.6 511.6,227.8 511.7,228.8 511.8,235.4 511.9,225.5 512.0,227.8 512.1,230.7 512.2,225.0 512.3,227.3 512.4,226.0 512.5,225.4 512.6,226.0 512.7,225.7 512.8,230.0 512.9,228.1 513.0,233.3 513.1,230.9 513.2,226.5 513.3,232.0 513.4,226.0 513.5,226.1 513.6,229.8 513.7,229.9 513.8,228.0 513.9,224.9 514.0,228.8 514.1,230.6 514.2,226.3 514.3,233.2 514.4,227.9 514.5,227.9 514.6,228.5 514.7,232.2 514.8,228.9 514.9,232.2 515.0,226.2 515.1,229.2 515.2,229.6 515.3,230.6 515.4,226.7 515.5,229.0 515.6,225.0 515.7,224.5 515.8,225.1 515.9,224.2 516.0,229.9 516.1,224.1 516.2,231.6 516.3,232.9 516.4,225.2 516.5,232.0 516.6,231.3 516.7,232.3 516.8,223.5 516.9,232.2 517.0,230.3 517.1,224.9 517.2,227.3 517.3,231.1 517.4,232.3 517.5,229.7 517.6,226.0 517.7,228.1 517.8,226.9 517.9,225.0 518.0,230.5 518.1,221.1 518.2,230.2 518.3,233.4 518.4,234.5 518.5,230.0 518.6,228.6 518.7,228.3 518.8,232.5 518.9,229.4 519.0,224.9 519.1,226.4 519.2,223.4 519.3,233.5 519.4,230.8 519.5,227.5 519.6,228.8 519.7,227.9 519.8,232.2 519.9,227.6 520.0,225.3 520.1,224.1 520.2,227.3 520.3,226.6 520.4,230.9 520.5,229.8 520.6,227.7 520.7,230.5 520.8,222.1 520.9,226.1 521.0,227.9 521.1,228.7 521.2,226.8 521.3,223.0 521.4,231.3 521.5,230.4 521.6,230.6 521.7,230.7 521.8,224.1 521.9,226.9 522.0,227.2 522.1,227.7 522.2,229.4 522.3,231.2 522.4,230.7 522.5,231.2 522.6,228.0 522.7,225.2 522.8,224.3 522.9,227.4 523.0,232.1 523.1,223.5 523.2,227.9 523.3,226.4 523.4,231.0 523.5,224.8 523.6,228.4 523.7,227.6 523.8,232.3 523.9,227.0 524.0,228.5 524.1,229.8 524.2,231.2 524.3,220.4 524.4,227.1 524.5,229.1 524.6,223.1 524.7,226.4 524.8,231.3 524.9,224.7 525.0,226.4 525.1,230.0 525.2,225.2 525.3,221.5 525.4,228.3 525.5,226.4 525.6,223.9 525.7,228.9 525.8,225.6 525.9,226.4 526.0,223.6 526.1,227.4 526.2,226.7 526.3,227.9 526.4,230.9 526.5,227.5 526.6,229.3 526.7,231.0 526.8,228.9 526.9,225.6" fill="none" stroke="#ff0000" stroke-width="1.3" stroke-linejoin="round"/>
<polyline points="50.4,105 51.1,225.6 51.2,228.9 51.3,231.4 51.4,235.8 51.5,236.3 51.6,239.6 51.7,237.5 51.8,241.3 51.9,243.9 52.0,253.9 52.1,249.0 52.2,248.9 52.3,250.1 52.4,249.7 52.5,260.1 52.6,252.6 52.7,248.6 52.8,255.1 52.9,260.8 53.0,257.2 53.1,258.9 53.2,266.2 53.3,262.8 53.4,258.9 53.5,261.5 53.6,265.3 53.7,272.7 53.8,256.8 53.9,264.0 54.0,268.2 54.1,261.9 54.2,271.1 54.3,272.4 54.4,270.3 54.5,268.1 54.6,264.2 54.7,254.6 54.8,272.7 54.9,263.9 55.0,277.1 55.1,282.9 55.2,275.0 55.3,259.8 55.4,268.5 55.5,281.3 55.6,275.8 55.7,275.6 55.8,275.2 55.9,272.3 56.0,261.0 56.1,274.9 56.2,266.6 56.3,269.3 56.4,274.6 56.5,270.6 56.6,277.3 56.7,281.3 56.8,259.2 56.9,275.4 57.0,267.3 57.1,274.2 57.2,265.6 57.3,266.5 57.4,268.1 57.5,260.8 57.6,266.0 57.7,274.0 57.8,275.4 57.9,266.0 58.0,259.8 58.1,259.4 58.2,266.0 58.3,275.9 58.4,262.8 58.5,269.6 58.6,262.9 58.7,263.8 58.8,266.7 58.9,276.5 59.0,270.2 59.1,263.3 59.2,268.9 59.3,256.8 59.4,269.0 59.5,265.4 59.6,269.2 59.7,270.3 59.8,259.8 59.9,265.5 60.0,261.1 60.1,260.9 60.2,258.3 60.3,266.5 60.4,257.9 60.5,255.1 60.6,263.2 60.7,249.3 60.8,256.8 60.9,262.9 61.0,250.9 61.1,250.8 61.2,256.3 61.3,254.3 61.4,259.4 61.5,259.7 61.6,250.7 61.7,252.5 61.8,251.7 61.9,252.2 62.0,250.1 62.1,254.7 62.2,247.7 62.3,243.4 62.4,247.6 62.5,246.3 62.6,253.2 62.7,242.1 62.8,242.0 62.9,246.8 63.0,250.0 63.1,241.7 63.2,241.6 63.3,237.8 63.4,244.3 63.5,249.7 63.6,244.6 63.7,242.8 63.8,240.6 63.9,240.2 64.0,236.6 64.1,241.9 64.2,235.1 64.3,236.7 64.4,234.6 64.5,239.8 64.6,236.9 64.7,233.8 64.8,232.7 64.9,227.9 65.0,226.3 65.1,227.9 65.2,232.3 65.3,230.1 65.4,229.0 65.5,227.5 65.6,226.4 65.7,224.5 65.8,230.7 65.9,228.4 66.0,230.4 66.1,223.5 66.2,224.3 66.3,219.7 66.4,218.3 66.5,220.5 66.6,218.7 66.7,218.2 66.8,218.3 66.9,218.3 67.0,217.2 67.1,214.0 67.2,219.2 67.3,215.6 67.4,217.8 67.5,216.6 67.6,219.7 67.7,206.7 67.8,215.1 67.9,210.5 68.0,211.4 68.1,213.3 68.2,213.7 68.3,213.2 68.4,209.3 68.5,214.3 68.6,207.7 68.7,207.8 68.8,210.5 68.9,211.0 69.0,214.4 69.1,213.1 69.2,213.7 69.3,208.3 69.4,201.8 69.5,205.7 69.6,207.3 69.7,205.4 69.8,205.3 69.9,203.5 70.0,209.0 70.1,195.6 70.2,206.2 70.3,199.7 70.4,207.8 70.5,199.2 70.6,197.3 70.7,202.1 70.8,205.2 70.9,201.9 71.0,209.7 71.1,208.4 71.2,194.7 71.3,201.5 71.4,199.7 71.5,202.2 71.6,206.2 71.7,201.4 71.8,201.5 71.9,200.1 72.0,204.1 72.1,199.6 72.2,196.8 72.3,200.9 72.4,205.0 72.5,195.3 72.6,203.4 72.7,199.8 72.8,188.6 72.9,195.9 73.0,206.0 73.1,190.9 73.2,198.0 73.3,194.1 73.4,209.1 73.5,201.1 73.6,191.0 73.7,198.5 73.8,197.3 73.9,195.8 74.0,199.1 74.1,195.2 74.2,201.0 74.3,195.4 74.4,190.4 74.5,197.1 74.6,198.6 74.7,197.4 74.8,197.5 74.9,190.7 75.0,197.2 75.1,193.8 75.2,198.6 75.3,199.4 75.4,194.0 75.5,189.6 75.6,187.3 75.7,192.3 75.8,199.7 75.9,191.3 76.0,192.0 76.1,194.7 76.2,192.8 76.3,184.7 76.4,192.0 76.5,192.7 76.6,187.8 76.7,189.7 76.8,189.2 76.9,189.7 77.0,189.3 77.1,189.8 77.2,186.3 77.3,187.0 77.4,183.5 77.5,192.2 77.6,191.3 77.7,192.6 77.8,190.9 77.9,188.6 78.0,191.0 78.1,187.4 78.2,189.5 78.3,190.3 78.4,191.9 78.5,188.4 78.6,186.4 78.7,196.6 78.8,193.3 78.9,186.5 79.0,186.7 79.1,188.2 79.2,187.2 79.3,180.1 79.4,181.7 79.5,192.2 79.6,183.6 79.7,190.8 79.8,187.6 79.9,188.0 80.0,190.2 80.1,180.7 80.2,187.5 80.3,186.2 80.4,182.3 80.5,179.6 80.6,183.3 80.7,186.9 80.8,181.8 80.9,185.5 81.0,182.9 81.1,185.2 81.2,189.2 81.3,180.2 81.4,179.1 81.5,182.3 81.6,178.8 81.7,182.0 81.8,187.0 81.9,170.5 82.0,187.2 82.1,180.9 82.2,184.1 82.3,172.0 82.4,179.6 82.5,189.0 82.6,181.3 82.7,184.6 82.8,180.0 82.9,187.2 83.0,184.5 83.1,179.9 83.2,182.3 83.3,179.0 83.4,178.0 83.5,181.6 83.6,179.4 83.7,179.9 83.8,184.0 83.9,177.6 84.0,191.8 84.1,186.0 84.2,189.2 84.3,188.2 84.4,178.6 84.5,181.6 84.6,176.2 84.7,179.9 84.8,173.5 84.9,185.2 85.0,180.3 85.1,187.6 85.2,173.2 85.3,181.2 85.4,176.8 85.5,174.0 85.6,183.1 85.7,187.4 85.8,179.4 85.9,182.1 86.0,181.4 86.1,185.3 86.2,179.3 86.3,184.4 86.4,184.3 86.5,180.2 86.6,181.1 86.7,180.0 86.8,184.8 86.9,180.8 87.0,183.2 87.1,182.7 87.2,186.3 87.3,179.8 87.4,181.8 87.5,173.1 87.6,175.1 87.7,178.1 87.8,179.7 87.9,179.7 88.0,176.9 88.1,177.4 88.2,173.0 88.3,177.8 88.4,184.5 88.5,187.1 88.6,184.8 88.7,181.4 88.8,188.1 88.9,179.4 89.0,181.7 89.1,180.4 89.2,181.4 89.3,185.6 89.4,181.5 89.5,170.5 89.6,184.8 89.7,187.7 89.8,185.9 89.9,186.4 90.0,176.0 90.1,177.9 90.2,186.1 90.3,191.9 90.4,185.4 90.5,181.7 90.6,182.1 90.7,190.0 90.8,181.7 90.9,184.4 91.0,182.0 91.1,179.0 91.2,179.5 91.3,189.6 91.4,186.7 91.5,184.0 91.6,189.8 91.7,189.9 91.8,187.8 91.9,190.0 92.0,188.2 92.1,190.5 92.2,187.9 92.3,182.0 92.4,190.8 92.5,177.3 92.6,185.6 92.7,191.8 92.8,184.5 92.9,189.3 93.0,183.3 93.1,190.7 93.2,183.2 93.3,187.9 93.4,183.6 93.5,193.5 93.6,189.7 93.7,178.3 93.8,179.5 93.9,186.2 94.0,189.5 94.1,189.9 94.2,182.0 94.3,179.8 94.4,188.9 94.5,190.5 94.6,185.5 94.7,186.5 94.8,188.0 94.9,182.2 95.0,189.3 95.1,177.9 95.2,188.4 95.3,190.2 95.4,183.6 95.5,188.9 95.6,185.0 95.7,182.2 95.8,190.3 95.9,193.1 96.0,186.4 96.1,190.4 96.2,190.6 96.3,192.4 96.4,185.0 96.5,188.3 96.6,190.3 96.7,180.9 96.8,180.2 96.9,186.8 97.0,184.8 97.1,183.9 97.2,185.7 97.3,190.2 97.4,189.8 97.5,184.8 97.6,187.1 97.7,180.3 97.8,193.6 97.9,191.9 98.0,178.0 98.1,193.3 98.2,188.4 98.3,185.4 98.4,192.4 98.5,186.0 98.6,194.2 98.7,188.2 98.8,181.3 98.9,181.5 99.0,184.0 99.1,191.1 99.2,191.8 99.3,183.8 99.4,186.1 99.5,190.5 99.6,181.9 99.7,192.6 99.8,187.1 99.9,192.4 100.0,188.3 100.1,194.3 100.2,190.2 100.3,191.9 100.4,193.4 100.5,185.3 100.6,192.6 100.7,193.5 100.8,194.6 100.9,192.7 101.0,185.4 101.1,184.5 101.2,194.7 101.3,190.2 101.4,191.4 101.5,192.3 101.6,198.3 101.7,190.4 101.8,197.5 101.9,191.0 102.0,188.7 102.1,189.2 102.2,193.4 102.3,191.4 102.4,194.7 102.5,189.1 102.6,191.9 102.7,189.9 102.8,187.2 102.9,186.9 103.0,185.7 103.1,190.7 103.2,189.8 103.3,187.8 103.4,195.0 103.5,187.3 103.6,192.8 103.7,195.8 103.8,192.3 103.9,191.9 104.0,190.8 104.1,190.9 104.2,190.6 104.3,190.8 104.4,192.6 104.5,197.8 104.6,187.9 104.7,195.5 104.8,190.4 104.9,188.4 105.0,196.9 105.1,196.3 105.2,194.3 105.3,187.6 105.4,197.5 105.5,190.9 105.6,196.5 105.7,189.3 105.8,197.5 105.9,195.9 106.0,195.6 106.1,190.0 106.2,191.7 106.3,187.0 106.4,197.3 106.5,191.9 106.6,187.0 106.7,193.1 106.8,195.9 106.9,197.0 107.0,193.1 107.1,198.9 107.2,201.6 107.3,186.5 107.4,185.2 107.5,190.1 107.6,188.8 107.7,198.4 107.8,193.2 107.9,195.8 108.0,191.1 108.1,194.7 108.2,199.2 108.3,195.6 108.4,195.4 108.5,194.1 108.6,195.9 108.7,193.2 108.8,200.5 108.9,202.6 109.0,196.9 109.1,200.0 109.2,193.2 109.3,195.9 109.4,200.6 109.5,185.5 109.6,198.0 109.7,192.3 109.8,193.4 109.9,191.4 110.0,196.0 110.1,189.2 110.2,197.5 110.3,204.1 110.4,197.6 110.5,200.9 110.6,195.9 110.7,191.5 110.8,195.4 110.9,196.4 111.0,191.7 111.1,195.4 111.2,189.8 111.3,190.6 111.4,199.4 111.5,198.1 111.6,190.6 111.7,195.7 111.8,196.8 111.9,195.2 112.0,191.7 112.1,196.8 112.2,198.3 112.3,190.5 112.4,200.0 112.5,195.5 112.6,200.8 112.7,196.3 112.8,195.6 112.9,202.0 113.0,195.8 113.1,196.5 113.2,201.6 113.3,197.8 113.4,198.9 113.5,196.4 113.6,194.8 113.7,201.5 113.8,196.5 113.9,202.9 114.0,196.1 114.1,200.2 114.2,198.8 114.3,200.6 114.4,190.9 114.5,201.6 114.6,201.1 114.7,206.4 114.8,194.2 114.9,194.8 115.0,200.7 115.1,196.0 115.2,201.3 115.3,194.3 115.4,197.1 115.5,198.7 115.6,198.4 115.7,198.0 115.8,192.0 115.9,199.4 116.0,201.2 116.1,202.3 116.2,202.0 116.3,195.5 116.4,196.0 116.5,198.0 116.6,197.8 116.7,197.6 116.8,204.5 116.9,201.6 117.0,201.0 117.1,196.1 117.2,199.9 117.3,194.0 117.4,194.8 117.5,200.0 117.6,196.9 117.7,197.7 117.8,203.9 117.9,202.0 118.0,196.2 118.1,196.0 118.2,199.5 118.3,191.4 118.4,198.8 118.5,201.9 118.6,207.4 118.7,202.2 118.8,206.8 118.9,199.2 119.0,196.1 119.1,199.1 119.2,205.0 119.3,197.8 119.4,199.9 119.5,193.6 119.6,196.9 119.7,203.9 119.8,203.5 119.9,198.1 120.0,202.8 120.1,201.2 120.2,196.8 120.3,202.0 120.4,196.6 120.5,196.1 120.6,205.8 120.7,203.5 120.8,199.9 120.9,202.7 121.0,197.0 121.1,204.8 121.2,200.1 121.3,201.3 121.4,194.4 121.5,202.2 121.6,204.0 121.7,197.5 121.8,201.5 121.9,209.8 122.0,196.8 122.1,195.7 122.2,202.8 122.3,202.1 122.4,201.0 122.5,195.7 122.6,199.6 122.7,207.9 122.8,200.1 122.9,208.0 123.0,207.4 123.1,207.9 123.2,197.8 123.3,202.8 123.4,201.3 123.5,202.5 123.6,205.5 123.7,198.4 123.8,196.1 123.9,195.3 124.0,203.3 124.1,199.2 124.2,205.8 124.3,203.5 124.4,205.1 124.5,201.2 124.6,200.5 124.7,200.7 124.8,202.5 124.9,204.9 125.0,201.7 125.1,200.8 125.2,205.2 125.3,204.1 125.4,205.4 125.5,199.4 125.6,202.7 125.7,207.5 125.8,207.1 125.9,202.7 126.0,197.9 126.1,197.4 126.2,198.3 126.3,200.4 126.4,201.4 126.5,203.6 126.6,203.9 126.7,205.9 126.8,207.2 126.9,209.1 127.0,202.7 127.1,200.8 127.2,197.8 127.3,207.7 127.4,198.3 127.5,205.2 127.6,202.0 127.7,209.0 127.8,202.4 127.9,201.9 128.0,209.2 128.1,200.9 128.2,203.3 128.3,210.4 128.4,203.3 128.5,200.9 128.6,199.1 128.7,202.9 128.8,198.9 128.9,206.8 129.0,208.6 129.1,205.5 129.2,206.5 129.3,200.5 129.4,204.8 129.5,208.8 129.6,203.2 129.7,199.4 129.8,205.5 129.9,206.7 130.0,200.6 130.1,199.9 130.2,203.5 130.3,205.8 130.4,205.7 130.5,199.0 130.6,199.4 130.7,209.6 130.8,203.0 130.9,200.3 131.0,206.4 131.1,208.0 131.2,212.2 131.3,204.6 131.4,205.7 131.5,209.7 131.6,206.7 131.7,209.1 131.8,208.5 131.9,210.8 132.0,211.0 132.1,204.1 132.2,209.5 132.3,200.0 132.4,204.1 132.5,203.8 132.6,208.2 132.7,207.2 132.8,207.1 132.9,203.2 133.0,210.5 133.1,212.3 133.2,213.8 133.3,207.8 133.4,210.8 133.5,205.4 133.6,207.8 133.7,202.3 133.8,212.5 133.9,207.2 134.0,204.3 134.1,203.5 134.2,202.5 134.3,207.4 134.4,210.9 134.5,213.0 134.6,210.3 134.7,206.6 134.8,203.3 134.9,206.5 135.0,199.1 135.1,210.3 135.2,208.4 135.3,206.0 135.4,208.0 135.5,210.4 135.6,213.6 135.7,213.9 135.8,203.2 135.9,204.6 136.0,206.6 136.1,210.6 136.2,201.0 136.3,211.8 136.4,211.5 136.5,199.9 136.6,210.7 136.7,213.5 136.8,204.8 136.9,207.9 137.0,206.1 137.1,210.7 137.2,211.4 137.3,210.4 137.4,212.2 137.5,212.1 137.6,218.1 137.7,205.8 137.8,211.0 137.9,206.1 138.0,214.4 138.1,210.9 138.2,213.4 138.3,208.7 138.4,212.1 138.5,213.7 138.6,210.3 138.7,212.8 138.8,205.7 138.9,215.5 139.0,208.3 139.1,214.5 139.2,207.9 139.3,208.4 139.4,209.2 139.5,214.9 139.6,209.8 139.7,203.4 139.8,207.0 139.9,211.5 140.0,215.7 140.1,204.2 140.2,207.6 140.3,207.4 140.4,214.8 140.5,215.4 140.6,203.9 140.7,213.4 140.8,214.2 140.9,210.9 141.0,216.6 141.1,211.0 141.2,216.3 141.3,206.9 141.4,207.1 141.5,212.9 141.6,205.3 141.7,212.7 141.8,208.0 141.9,212.6 142.0,205.0 142.1,218.3 142.2,211.1 142.3,207.0 142.4,218.2 142.5,212.2 142.6,210.1 142.7,207.6 142.8,218.6 142.9,214.3 143.0,205.3 143.1,209.1 143.2,213.3 143.3,217.0 143.4,201.4 143.5,218.6 143.6,212.8 143.7,208.1 143.8,211.8 143.9,214.1 144.0,207.1 144.1,218.6 144.2,208.4 144.3,209.3 144.4,211.1 144.5,211.8 144.6,212.6 144.7,211.9 144.8,207.9 144.9,217.8 145.0,205.5 145.1,216.0 145.2,205.0 145.3,216.2 145.4,208.9 145.5,212.8 145.6,210.6 145.7,212.1 145.8,210.0 145.9,213.4 146.0,208.0 146.1,211.3 146.2,217.9 146.3,213.2 146.4,215.3 146.5,210.8 146.6,211.2 146.7,207.7 146.8,204.9 146.9,222.5 147.0,208.6 147.1,204.7 147.2,209.1 147.3,216.7 147.4,215.9 147.5,211.1 147.6,210.6 147.7,208.2 147.8,218.6 147.9,216.5 148.0,208.9 148.1,216.6 148.2,205.1 148.3,205.6 148.4,205.3 148.5,209.5 148.6,205.5 148.7,212.1 148.8,222.3 148.9,208.4 149.0,219.1 149.1,213.8 149.2,209.8 149.3,209.3 149.4,214.1 149.5,215.1 149.6,208.7 149.7,214.7 149.8,206.4 149.9,203.6 150.0,216.6 150.1,211.6 150.2,213.2 150.3,204.5 150.4,220.2 150.5,208.5 150.6,212.6 150.7,214.2 150.8,214.0 150.9,209.1 151.0,209.5 151.1,207.7 151.2,213.8 151.3,216.7 151.4,203.7 151.5,207.3 151.6,214.1 151.7,212.8 151.8,208.2 151.9,210.6 152.0,210.7 152.1,207.5 152.2,210.1 152.3,209.3 152.4,212.7 152.5,206.2 152.6,211.1 152.7,209.6 152.8,212.8 152.9,209.1 153.0,218.3 153.1,213.9 153.2,209.9 153.3,213.2 153.4,216.7 153.5,207.7 153.6,213.2 153.7,216.7 153.8,216.4 153.9,212.5 154.0,209.0 154.1,204.5 154.2,210.5 154.3,208.6 154.4,216.3 154.5,206.4 154.6,209.8 154.7,211.6 154.8,205.5 154.9,208.5 155.0,212.7 155.1,213.3 155.2,216.2 155.3,208.6 155.4,213.5 155.5,207.0 155.6,208.8 155.7,208.3 155.8,206.6 155.9,213.1 156.0,210.4 156.1,215.9 156.2,210.7 156.3,211.8 156.4,207.1 156.5,214.4 156.6,208.0 156.7,208.3 156.8,215.2 156.9,212.5 157.0,218.2 157.1,213.1 157.2,215.7 157.3,213.1 157.4,218.4 157.5,211.4 157.6,217.0 157.7,207.4 157.8,209.1 157.9,207.6 158.0,214.4 158.1,215.8 158.2,215.8 158.3,215.7 158.4,206.7 158.5,207.6 158.6,210.7 158.7,207.7 158.8,205.8 158.9,212.7 159.0,213.2 159.1,218.4 159.2,212.6 159.3,207.2 159.4,206.4 159.5,214.8 159.6,210.2 159.7,213.5 159.8,216.8 159.9,211.1 160.0,215.9 160.1,215.1 160.2,211.7 160.3,214.3 160.4,209.9 160.5,217.2 160.6,215.3 160.7,212.3 160.8,212.4 160.9,218.6 161.0,214.4 161.1,212.0 161.2,217.9 161.3,216.0 161.4,219.3 161.5,217.5 161.6,208.0 161.7,212.0 161.8,215.1 161.9,212.7 162.0,212.1 162.1,216.1 162.2,215.3 162.3,212.0 162.4,210.6 162.5,216.7 162.6,215.7 162.7,218.6 162.8,213.7 162.9,211.6 163.0,204.5 163.1,209.2 163.2,210.6 163.3,214.6 163.4,208.1 163.5,214.3 163.6,206.4 163.7,212.7 163.8,213.7 163.9,214.9 164.0,213.1 164.1,211.9 164.2,212.8 164.3,210.1 164.4,216.6 164.5,205.5 164.6,215.4 164.7,211.2 164.8,212.5 164.9,212.0 165.0,205.7 165.1,213.0 165.2,211.5 165.3,212.1 165.4,211.3 165.5,215.8 165.6,212.4 165.7,216.3 165.8,205.4 165.9,209.8 166.0,209.8 166.1,213.0 166.2,209.8 166.3,207.0 166.4,206.9 166.5,215.1 166.6,212.7 166.7,209.6 166.8,208.0 166.9,207.3 167.0,209.2 167.1,205.7 167.2,212.5 167.3,213.0 167.4,209.8 167.5,214.0 167.6,213.4 167.7,208.6 167.8,210.0 167.9,212.0 168.0,215.0 168.1,206.4 168.2,211.0 168.3,215.6 168.4,209.5 168.5,214.2 168.6,214.5 168.7,212.7 168.8,213.9 168.9,207.2 169.0,210.3 169.1,212.7 169.2,215.8 169.3,212.0 169.4,204.7 169.5,208.7 169.6,210.7 169.7,209.8 169.8,213.5 169.9,211.2 170.0,209.6 170.1,215.2 170.2,209.6 170.3,216.0 170.4,207.6 170.5,209.0 170.6,209.8 170.7,212.7 170.8,214.2 170.9,213.0 171.0,216.9 171.1,215.2 171.2,209.6 171.3,216.9 171.4,206.5 171.5,209.4 171.6,213.5 171.7,214.2 171.8,206.7 171.9,213.7 172.0,211.8 172.1,212.7 172.2,209.4 172.3,210.6 172.4,209.1 172.5,202.4 172.6,210.9 172.7,210.1 172.8,214.0 172.9,211.8 173.0,207.4 173.1,203.4 173.2,210.9 173.3,214.6 173.4,208.5 173.5,215.6 173.6,204.5 173.7,206.0 173.8,212.5 173.9,202.7 174.0,200.8 174.1,209.1 174.2,212.8 174.3,207.2 174.4,205.8 174.5,203.6 174.6,206.4 174.7,211.5 174.8,210.8 174.9,206.6 175.0,213.8 175.1,210.6 175.2,200.0 175.3,211.5 175.4,208.3 175.5,207.1 175.6,210.3 175.7,208.5 175.8,212.1 175.9,211.4 176.0,206.8 176.1,207.8 176.2,206.3 176.3,210.3 176.4,209.8 176.5,209.0 176.6,208.6 176.7,213.8 176.8,209.6 176.9,210.3 177.0,201.1 177.1,204.3 177.2,209.1 177.3,213.0 177.4,207.1 177.5,206.6 177.6,205.2 177.7,206.6 177.8,202.7 177.9,213.1 178.0,211.1 178.1,207.0 178.2,204.7 178.3,208.0 178.4,210.3 178.5,204.2 178.6,208.4 178.7,206.6 178.8,203.7 178.9,209.3 179.0,207.3 179.1,209.7 179.2,209.2 179.3,209.1 179.4,204.8 179.5,208.3 179.6,201.0 179.7,209.6 179.8,202.9 179.9,200.6 180.0,202.8 180.1,201.2 180.2,205.4 180.3,206.4 180.4,209.4 180.5,203.4 180.6,207.5 180.7,210.4 180.8,209.4 180.9,198.4 181.0,204.1 181.1,205.7 181.2,212.7 181.3,209.3 181.4,207.4 181.5,201.6 181.6,205.1 181.7,196.3 181.8,207.8 181.9,202.7 182.0,206.0 182.1,201.5 182.2,211.8 182.3,209.2 182.4,199.4 182.5,209.5 182.6,203.2 182.7,206.2 182.8,204.1 182.9,208.6 183.0,211.3 183.1,206.6 183.2,210.7 183.3,205.5 183.4,207.0 183.5,207.3 183.6,198.6 183.7,199.1 183.8,212.8 183.9,203.5 184.0,211.9 184.1,205.3 184.2,210.1 184.3,199.1 184.4,203.4 184.5,206.7 184.6,206.5 184.7,203.6 184.8,204.1 184.9,207.1 185.0,212.5 185.1,208.0 185.2,210.1 185.3,213.2 185.4,212.7 185.5,210.4 185.6,212.1 185.7,207.7 185.8,209.6 185.9,205.2 186.0,205.1 186.1,206.3 186.2,203.1 186.3,211.9 186.4,207.3 186.5,211.6 186.6,201.9 186.7,205.0 186.8,198.5 186.9,198.7 187.0,203.8 187.1,204.6 187.2,201.7 187.3,205.5 187.4,207.5 187.5,204.2 187.6,200.6 187.7,209.4 187.8,196.4 187.9,203.8 188.0,207.6 188.1,211.1 188.2,201.9 188.3,203.1 188.4,206.6 188.5,205.9 188.6,205.1 188.7,207.0 188.8,207.6 188.9,207.4 189.0,209.2 189.1,213.0 189.2,211.3 189.3,205.8 189.4,208.4 189.5,208.3 189.6,213.8 189.7,195.9 189.8,201.0 189.9,204.6 190.0,202.5 190.1,202.4 190.2,201.7 190.3,206.9 190.4,211.1 190.5,217.5 190.6,196.6 190.7,209.5 190.8,211.9 190.9,211.5 191.0,212.9 191.1,201.5 191.2,204.3 191.3,206.0 191.4,200.9 191.5,215.9 191.6,211.7 191.7,203.2 191.8,200.0 191.9,212.6 192.0,212.2 192.1,212.9 192.2,212.9 192.3,212.8 192.4,211.1 192.5,215.6 192.6,200.6 192.7,212.7 192.8,202.6 192.9,207.4 193.0,201.8 193.1,207.2 193.2,207.9 193.3,209.4 193.4,211.3 193.5,203.1 193.6,202.9 193.7,210.1 193.8,209.2 193.9,209.6 194.0,206.5 194.1,208.2 194.2,201.9 194.3,208.8 194.4,200.4 194.5,209.5 194.6,208.7 194.7,216.1 194.8,201.4 194.9,201.4 195.0,209.6 195.1,199.4 195.2,204.3 195.3,202.2 195.4,199.1 195.5,203.4 195.6,208.2 195.7,199.3 195.8,210.3 195.9,201.5 196.0,213.0 196.1,214.6 196.2,208.7 196.3,216.9 196.4,209.3 196.5,199.2 196.6,196.9 196.7,199.5 196.8,195.2 196.9,212.2 197.0,209.5 197.1,199.6 197.2,201.5 197.3,209.1 197.4,209.3 197.5,208.0 197.6,210.8 197.7,211.4 197.8,199.5 197.9,205.5 198.0,207.0 198.1,213.0 198.2,208.8 198.3,208.7 198.4,212.7 198.5,200.3 198.6,205.5 198.7,203.6 198.8,207.5 198.9,207.3 199.0,199.3 199.1,214.6 199.2,216.7 199.3,203.5 199.4,210.3 199.5,209.0 199.6,213.0 199.7,209.5 199.8,205.8 199.9,209.5 200.0,215.5 200.1,211.3 200.2,203.3 200.3,215.4 200.4,207.1 200.5,209.3 200.6,212.5 200.7,208.1 200.8,207.7 200.9,215.0 201.0,211.3 201.1,205.5 201.2,204.3 201.3,201.9 201.4,215.9 201.5,200.6 201.6,209.3 201.7,210.9 201.8,207.3 201.9,203.2 202.0,211.1 202.1,210.5 202.2,209.1 202.3,214.3 202.4,204.7 202.5,207.0 202.6,208.5 202.7,215.5 202.8,207.7 202.9,204.4 203.0,207.9 203.1,209.3 203.2,205.3 203.3,208.7 203.4,212.8 203.5,208.6 203.6,203.5 203.7,200.2 203.8,203.2 203.9,207.7 204.0,208.9 204.1,210.0 204.2,208.2 204.3,216.3 204.4,213.1 204.5,208.6 204.6,210.8 204.7,210.6 204.8,200.7 204.9,205.0 205.0,205.6 205.1,213.4 205.2,208.3 205.3,209.5 205.4,204.2 205.5,201.0 205.6,204.8 205.7,212.7 205.8,211.7 205.9,214.0 206.0,218.0 206.1,199.4 206.2,211.3 206.3,201.3 206.4,212.2 206.5,203.8 206.6,198.1 206.7,209.6 206.8,213.5 206.9,205.6 207.0,210.0 207.1,208.3 207.2,205.1 207.3,202.4 207.4,215.6 207.5,204.5 207.6,209.8 207.7,211.1 207.8,203.3 207.9,205.2 208.0,213.6 208.1,214.1 208.2,213.0 208.3,208.1 208.4,213.4 208.5,204.6 208.6,197.9 208.7,206.1 208.8,205.5 208.9,213.4 209.0,215.8 209.1,216.4 209.2,202.7 209.3,200.3 209.4,212.4 209.5,205.4 209.6,199.6 209.7,207.9 209.8,201.0 209.9,210.6 210.0,203.7 210.1,207.0 210.2,203.3 210.3,208.5 210.4,210.7 210.5,209.7 210.6,201.0 210.7,216.2 210.8,215.5 210.9,205.1 211.0,202.1 211.1,200.5 211.2,208.0 211.3,213.0 211.4,213.9 211.5,197.7 211.6,204.6 211.7,206.2 211.8,203.5 211.9,202.1 212.0,207.4 212.1,209.1 212.2,207.4 212.3,213.5 212.4,205.0 212.5,199.9 212.6,207.0 212.7,210.0 212.8,206.7 212.9,210.5 213.0,203.9 213.1,212.1 213.2,205.0 213.3,208.6 213.4,210.9 213.5,215.9 213.6,210.2 213.7,217.0 213.8,207.5 213.9,207.9 214.0,201.3 214.1,198.9 214.2,212.8 214.3,210.2 214.4,205.6 214.5,210.4 214.6,211.7 214.7,213.2 214.8,209.1 214.9,209.3 215.0,207.1 215.1,207.4 215.2,211.7 215.3,204.6 215.4,202.9 215.5,213.3 215.6,211.5 215.7,210.3 215.8,211.2 215.9,212.4 216.0,208.4 216.1,209.1 216.2,200.2 216.3,214.2 216.4,213.3 216.5,210.2 216.6,213.4 216.7,207.2 216.8,207.7 216.9,199.9 217.0,199.9 217.1,205.8 217.2,205.6 217.3,199.2 217.4,215.0 217.5,203.7 217.6,211.1 217.7,204.6 217.8,209.4 217.9,210.4 218.0,216.2 218.1,207.4 218.2,210.4 218.3,206.9 218.4,206.4 218.5,198.6 218.6,204.3 218.7,213.5 218.8,213.3 218.9,206.1 219.0,207.6 219.1,210.0 219.2,209.8 219.3,212.2 219.4,201.7 219.5,205.0 219.6,197.7 219.7,203.4 219.8,208.0 219.9,213.9 220.0,210.0 220.1,209.0 220.2,208.0 220.3,208.5 220.4,215.6 220.5,216.4 220.6,213.0 220.7,206.3 220.8,201.9 220.9,212.2 221.0,209.9 221.1,202.4 221.2,209.6 221.3,212.9 221.4,199.9 221.5,200.9 221.6,201.0 221.7,203.2 221.8,211.0 221.9,202.6 222.0,207.3 222.1,213.9 222.2,205.6 222.3,207.0 222.4,210.7 222.5,211.6 222.6,206.9 222.7,207.2 222.8,198.9 222.9,202.9 223.0,204.1 223.1,214.9 223.2,211.1 223.3,209.2 223.4,204.3 223.5,212.6 223.6,208.7 223.7,210.2 223.8,214.6 223.9,209.9 224.0,209.5 224.1,207.7 224.2,212.9 224.3,211.7 224.4,215.2 224.5,207.6 224.6,211.5 224.7,208.2 224.8,206.5 224.9,206.2 225.0,214.8 225.1,206.5 225.2,212.7 225.3,213.3 225.4,207.9 225.5,205.6 225.6,204.1 225.7,210.5 225.8,211.3 225.9,202.8 226.0,206.0 226.1,211.0 226.2,205.8 226.3,203.9 226.4,215.2 226.5,211.8 226.6,206.8 226.7,214.9 226.8,206.8 226.9,208.2 227.0,213.2 227.1,212.0 227.2,203.8 227.3,204.8 227.4,203.9 227.5,214.4 227.6,203.6 227.7,218.5 227.8,213.9 227.9,200.8 228.0,215.8 228.1,215.9 228.2,213.4 228.3,205.9 228.4,207.6 228.5,211.2 228.6,206.7 228.7,205.9 228.8,218.1 228.9,212.5 229.0,212.9 229.1,208.0 229.2,214.9 229.3,199.4 229.4,212.6 229.5,203.7 229.6,203.8 229.7,214.0 229.8,208.9 229.9,215.1 230.0,213.9 230.1,206.6 230.2,204.4 230.3,214.6 230.4,209.6 230.5,202.2 230.6,207.7 230.7,209.9 230.8,205.1 230.9,216.6 231.0,211.6 231.1,204.4 231.2,203.5 231.3,210.9 231.4,207.3 231.5,213.0 231.6,207.2 231.7,208.7 231.8,206.1 231.9,200.4 232.0,213.4 232.1,210.5 232.2,205.4 232.3,208.8 232.4,209.3 232.5,209.2 232.6,211.1 232.7,215.6 232.8,212.4 232.9,216.2 233.0,211.1 233.1,210.1 233.2,213.5 233.3,218.3 233.4,210.1 233.5,207.4 233.6,213.7 233.7,205.9 233.8,208.9 233.9,205.8 234.0,206.7 234.1,209.1 234.2,217.9 234.3,208.3 234.4,207.3 234.5,208.4 234.6,203.5 234.7,208.5 234.8,208.8 234.9,216.3 235.0,210.4 235.1,210.6 235.2,209.7 235.3,215.1 235.4,214.8 235.5,210.3 235.6,214.3 235.7,215.3 235.8,215.3 235.9,215.0 236.0,207.5 236.1,210.3 236.2,204.0 236.3,209.4 236.4,207.1 236.5,210.4 236.6,215.1 236.7,205.5 236.8,207.6 236.9,208.8 237.0,214.2 237.1,208.7 237.2,213.3 237.3,213.3 237.4,206.7 237.5,208.2 237.6,208.2 237.7,215.4 237.8,205.1 237.9,207.3 238.0,207.4 238.1,207.2 238.2,207.0 238.3,208.8 238.4,214.0 238.5,210.8 238.6,207.7 238.7,212.4 238.8,206.5 238.9,213.3 239.0,203.9 239.1,211.0 239.2,205.7 239.3,206.9 239.4,218.9 239.5,218.2 239.6,209.9 239.7,208.1 239.8,201.9 239.9,204.3 240.0,212.0 240.1,209.6 240.2,208.8 240.3,205.4 240.4,214.7 240.5,212.0 240.6,212.3 240.7,209.2 240.8,208.9 240.9,208.5 241.0,210.2 241.1,209.7 241.2,214.2 241.3,213.6 241.4,209.2 241.5,216.5 241.6,218.7 241.7,216.4 241.8,212.5 241.9,213.3 242.0,208.3 242.1,211.8 242.2,210.7 242.3,214.8 242.4,215.5 242.5,209.2 242.6,210.8 242.7,206.6 242.8,205.5 242.9,210.8 243.0,207.9 243.1,213.1 243.2,207.2 243.3,210.6 243.4,208.9 243.5,210.8 243.6,215.8 243.7,211.2 243.8,212.7 243.9,211.0 244.0,203.6 244.1,209.9 244.2,206.1 244.3,208.8 244.4,213.4 244.5,209.9 244.6,208.7 244.7,207.5 244.8,209.7 244.9,210.0 245.0,205.8 245.1,207.3 245.2,207.5 245.3,211.3 245.4,212.1 245.5,202.1 245.6,213.2 245.7,212.8 245.8,210.3 245.9,212.0 246.0,214.9 246.1,211.7 246.2,204.8 246.3,209.8 246.4,215.6 246.5,207.0 246.6,212.5 246.7,208.1 246.8,211.8 246.9,214.5 247.0,210.6 247.1,207.6 247.2,211.0 247.3,213.4 247.4,216.0 247.5,207.2 247.6,209.7 247.7,219.1 247.8,213.9 247.9,213.8 248.0,215.4 248.1,203.2 248.2,216.0 248.3,207.0 248.4,206.8 248.5,206.8 248.6,209.3 248.7,207.2 248.8,213.0 248.9,212.3 249.0,215.3 249.1,212.1 249.2,207.0 249.3,210.8 249.4,217.1 249.5,213.6 249.6,216.1 249.7,218.3 249.8,208.8 249.9,210.9 250.0,212.7 250.1,211.4 250.2,213.3 250.3,212.6 250.4,209.3 250.5,207.2 250.6,217.1 250.7,207.0 250.8,213.4 250.9,216.4 251.0,207.4 251.1,213.5 251.2,213.9 251.3,214.3 251.4,206.3 251.5,207.3 251.6,216.6 251.7,212.1 251.8,204.2 251.9,203.4 252.0,212.8 252.1,211.9 252.2,208.9 252.3,211.7 252.4,216.5 252.5,205.7 252.6,216.1 252.7,215.8 252.8,210.3 252.9,208.0 253.0,205.2 253.1,207.2 253.2,214.5 253.3,205.9 253.4,213.6 253.5,217.9 253.6,213.8 253.7,215.4 253.8,212.1 253.9,214.3 254.0,216.7 254.1,214.4 254.2,212.2 254.3,209.5 254.4,210.2 254.5,212.1 254.6,214.3 254.7,213.0 254.8,209.0 254.9,217.8 255.0,218.4 255.1,212.0 255.2,214.2 255.3,213.8 255.4,211.5 255.5,207.2 255.6,213.6 255.7,214.5 255.8,212.6 255.9,214.4 256.0,208.2 256.1,213.5 256.2,216.3 256.3,210.0 256.4,214.3 256.5,211.2 256.6,209.2 256.7,217.1 256.8,213.7 256.9,210.2 257.0,205.8 257.1,212.4 257.2,216.2 257.3,209.0 257.4,218.0 257.5,213.4 257.6,212.1 257.7,211.4 257.8,217.8 257.9,213.9 258.0,217.7 258.1,206.1 258.2,211.8 258.3,205.0 258.4,215.9 258.5,212.7 258.6,211.3 258.7,215.9 258.8,211.2 258.9,211.4 259.0,211.7 259.1,216.1 259.2,204.4 259.3,208.6 259.4,211.5 259.5,206.5 259.6,212.1 259.7,215.2 259.8,214.1 259.9,214.9 260.0,216.4 260.1,214.9 260.2,215.9 260.3,213.9 260.4,218.5 260.5,215.2 260.6,210.5 260.7,208.5 260.8,208.6 260.9,213.9 261.0,205.0 261.1,213.0 261.2,212.1 261.3,217.0 261.4,213.1 261.5,210.1 261.6,212.5 261.7,205.4 261.8,213.3 261.9,208.6 262.0,217.9 262.1,215.2 262.2,212.1 262.3,211.4 262.4,217.2 262.5,214.4 262.6,214.4 262.7,212.5 262.8,216.8 262.9,215.0 263.0,217.5 263.1,210.6 263.2,215.7 263.3,211.5 263.4,213.1 263.5,206.9 263.6,210.3 263.7,216.3 263.8,214.0 263.9,211.0 264.0,209.1 264.1,209.3 264.2,217.3 264.3,206.1 264.4,211.2 264.5,211.8 264.6,209.9 264.7,206.3 264.8,210.7 264.9,219.9 265.0,212.0 265.1,216.3 265.2,208.4 265.3,219.3 265.4,217.0 265.5,214.4 265.6,213.5 265.7,213.5 265.8,211.5 265.9,218.9 266.0,213.6 266.1,208.5 266.2,210.9 266.3,204.9 266.4,215.1 266.5,212.3 266.6,218.7 266.7,219.7 266.8,209.1 266.9,206.9 267.0,216.2 267.1,215.6 267.2,216.1 267.3,217.1 267.4,214.7 267.5,213.6 267.6,213.0 267.7,208.2 267.8,217.4 267.9,208.5 268.0,210.7 268.1,217.8 268.2,206.6 268.3,214.6 268.4,217.4 268.5,212.3 268.6,215.2 268.7,212.8 268.8,215.0 268.9,216.9 269.0,212.1 269.1,219.4 269.2,210.1 269.3,209.9 269.4,212.4 269.5,210.2 269.6,214.4 269.7,209.3 269.8,207.1 269.9,218.1 270.0,211.8 270.1,209.8 270.2,211.4 270.3,207.7 270.4,208.3 270.5,215.5 270.6,214.6 270.7,212.8 270.8,207.6 270.9,216.0 271.0,212.5 271.1,214.0 271.2,207.3 271.3,217.6 271.4,214.1 271.5,210.3 271.6,206.6 271.7,214.6 271.8,217.5 271.9,210.4 272.0,219.6 272.1,215.6 272.2,207.1 272.3,212.5 272.4,208.2 272.5,214.8 272.6,212.9 272.7,217.9 272.8,207.0 272.9,208.9 273.0,214.3 273.1,216.0 273.2,215.2 273.3,207.6 273.4,219.4 273.5,213.3 273.6,216.3 273.7,210.0 273.8,214.5 273.9,211.1 274.0,208.3 274.1,211.7 274.2,222.6 274.3,212.4 274.4,216.3 274.5,210.8 274.6,207.5 274.7,220.1 274.8,212.9 274.9,218.9 275.0,220.0 275.1,209.3 275.2,219.4 275.3,212.6 275.4,219.2 275.5,216.3 275.6,217.3 275.7,210.9 275.8,212.6 275.9,219.0 276.0,208.0 276.1,214.8 276.2,208.3 276.3,214.1 276.4,216.1 276.5,216.9 276.6,219.5 276.7,210.1 276.8,216.7 276.9,206.9 277.0,217.3 277.1,214.5 277.2,214.1 277.3,219.5 277.4,209.2 277.5,211.1 277.6,216.1 277.7,210.9 277.8,215.9 277.9,219.5 278.0,213.7 278.1,207.7 278.2,210.4 278.3,218.2 278.4,213.6 278.5,221.4 278.6,214.7 278.7,217.1 278.8,218.3 278.9,214.0 279.0,214.2 279.1,221.6 279.2,208.4 279.3,220.8 279.4,218.2 279.5,225.0 279.6,213.4 279.7,205.5 279.8,221.2 279.9,208.5 280.0,216.7 280.1,218.1 280.2,218.0 280.3,220.1 280.4,217.4 280.5,213.8 280.6,214.0 280.7,216.5 280.8,218.0 280.9,213.8 281.0,215.7 281.1,211.3 281.2,215.2 281.3,213.0 281.4,215.7 281.5,211.4 281.6,218.8 281.7,213.0 281.8,206.4 281.9,214.2 282.0,214.3 282.1,212.2 282.2,210.7 282.3,215.2 282.4,221.3 282.5,213.2 282.6,216.7 282.7,214.6 282.8,219.8 282.9,219.2 283.0,212.7 283.1,206.7 283.2,217.8 283.3,223.6 283.4,221.6 283.5,218.9 283.6,217.2 283.7,220.4 283.8,210.9 283.9,214.2 284.0,215.3 284.1,222.3 284.2,219.1 284.3,208.5 284.4,225.4 284.5,216.5 284.6,221.4 284.7,209.0 284.8,218.1 284.9,212.9 285.0,212.9 285.1,221.0 285.2,219.9 285.3,219.1 285.4,216.9 285.5,213.6 285.6,217.1 285.7,215.3 285.8,216.9 285.9,211.5 286.0,216.8 286.1,216.0 286.2,210.3 286.3,211.2 286.4,212.4 286.5,221.6 286.6,211.9 286.7,216.2 286.8,204.7 286.9,202.8 287.0,198.1 287.1,185.3 287.2,183.8 287.3,173.9 287.4,174.6 287.5,169.3 287.6,170.3 287.7,170.6 287.8,172.6 287.9,164.9 288.0,161.0 288.1,167.7 288.2,169.3 288.3,166.6 288.4,167.4 288.5,159.3 288.6,157.4 288.7,158.0 288.8,157.9 288.9,157.9 289.0,164.2 289.1,164.7 289.2,159.9 289.3,165.9 289.4,156.7 289.5,162.2 289.6,162.1 289.7,160.2 289.8,162.4 289.9,154.2 290.0,165.1 290.1,159.8 290.2,165.5 290.3,169.0 290.4,161.1 290.5,156.0 290.6,158.1 290.7,155.5 290.8,149.0 290.9,156.0 291.0,154.1 291.1,161.2 291.2,156.4 291.3,157.7 291.4,165.3 291.5,164.7 291.6,156.8 291.7,157.6 291.8,160.4 291.9,155.2 292.0,157.4 292.1,158.7 292.2,168.4 292.3,157.6 292.4,158.6 292.5,164.7 292.6,154.4 292.7,161.8 292.8,161.2 292.9,154.3 293.0,158.7 293.1,158.8 293.2,160.0 293.3,155.4 293.4,163.2 293.5,156.2 293.6,154.5 293.7,164.7 293.8,152.1 293.9,154.9 294.0,165.6 294.1,157.9 294.2,156.0 294.3,156.2 294.4,156.6 294.5,153.2 294.6,166.4 294.7,157.6 294.8,163.3 294.9,162.0 295.0,161.6 295.1,155.6 295.2,159.6 295.3,157.2 295.4,154.8 295.5,151.3 295.6,165.6 295.7,162.9 295.8,154.0 295.9,158.2 296.0,157.0 296.1,163.7 296.2,163.4 296.3,152.7 296.4,163.4 296.5,158.8 296.6,159.5 296.7,165.8 296.8,159.3 296.9,163.4 297.0,158.0 297.1,153.9 297.2,162.5 297.3,159.2 297.4,159.1 297.5,155.3 297.6,164.4 297.7,164.8 297.8,160.7 297.9,162.1 298.0,159.8 298.1,156.2 298.2,156.0 298.3,163.3 298.4,157.3 298.5,161.7 298.6,162.4 298.7,165.7 298.8,157.5 298.9,160.6 299.0,155.1 299.1,167.4 299.2,161.3 299.3,166.3 299.4,164.1 299.5,154.8 299.6,160.3 299.7,161.1 299.8,162.4 299.9,156.7 300.0,155.3 300.1,163.5 300.2,166.3 300.3,165.5 300.4,152.8 300.5,154.5 300.6,165.1 300.7,165.4 300.8,160.9 300.9,161.2 301.0,160.1 301.1,157.7 301.2,165.3 301.3,158.5 301.4,160.5 301.5,161.1 301.6,163.1 301.7,157.9 301.8,159.1 301.9,161.9 302.0,152.8 302.1,157.5 302.2,162.5 302.3,161.4 302.4,161.1 302.5,165.1 302.6,159.9 302.7,159.6 302.8,166.7 302.9,155.8 303.0,161.3 303.1,167.2 303.2,156.6 303.3,154.1 303.4,159.1 303.5,166.6 303.6,167.3 303.7,160.6 303.8,159.5 303.9,162.7 304.0,160.2 304.1,158.7 304.2,158.4 304.3,166.3 304.4,164.6 304.5,159.0 304.6,164.6 304.7,162.1 304.8,162.3 304.9,164.8 305.0,162.8 305.1,167.6 305.2,163.1 305.3,165.8 305.4,162.7 305.5,157.7 305.6,165.8 305.7,168.0 305.8,167.4 305.9,161.4 306.0,162.5 306.1,161.1 306.2,161.8 306.3,166.6 306.4,167.2 306.5,165.1 306.6,159.1 306.7,161.6 306.8,165.9 306.9,168.1 307.0,160.0 307.1,167.2 307.2,158.7 307.3,163.5 307.4,165.4 307.5,161.0 307.6,160.7 307.7,165.1 307.8,165.4 307.9,163.6 308.0,168.2 308.1,163.0 308.2,160.2 308.3,160.4 308.4,165.8 308.5,160.6 308.6,166.3 308.7,161.1 308.8,167.9 308.9,167.2 309.0,165.5 309.1,163.1 309.2,164.3 309.3,165.1 309.4,166.1 309.5,166.4 309.6,162.9 309.7,167.9 309.8,163.4 309.9,164.4 310.0,168.4 310.1,169.3 310.2,167.9 310.3,170.6 310.4,165.8 310.5,164.2 310.6,163.4 310.7,174.6 310.8,168.3 310.9,171.2 311.0,170.5 311.1,169.2 311.2,169.3 311.3,172.5 311.4,170.2 311.5,169.5 311.6,170.2 311.7,168.3 311.8,173.0 311.9,175.1 312.0,167.0 312.1,174.0 312.2,169.6 312.3,168.6 312.4,169.7 312.5,168.2 312.6,169.8 312.7,171.4 312.8,171.8 312.9,173.6 313.0,170.7 313.1,172.6 313.2,172.7 313.3,170.8 313.4,175.6 313.5,174.9 313.6,174.3 313.7,172.1 313.8,174.3 313.9,174.5 314.0,173.1 314.1,173.1 314.2,174.3 314.3,178.7 314.4,173.8 314.5,177.8 314.6,178.1 314.7,177.0 314.8,177.2 314.9,176.5 315.0,178.7 315.1,180.8 315.2,179.3 315.3,177.9 315.4,176.8 315.5,176.0 315.6,181.4 315.7,179.4 315.8,179.6 315.9,172.8 316.0,181.3 316.1,179.7 316.2,177.7 316.3,182.2 316.4,179.3 316.5,175.1 316.6,182.9 316.7,178.6 316.8,178.0 316.9,179.3 317.0,178.0 317.1,183.0 317.2,175.4 317.3,181.6 317.4,177.4 317.5,184.9 317.6,181.5 317.7,181.3 317.8,178.5 317.9,183.6 318.0,177.9 318.1,182.2 318.2,179.9 318.3,180.5 318.4,182.4 318.5,183.6 318.6,178.4 318.7,179.1 318.8,185.6 318.9,184.8 319.0,184.4 319.1,179.8 319.2,181.6 319.3,182.9 319.4,182.1 319.5,184.8 319.6,183.7 319.7,181.9 319.8,183.0 319.9,186.1 320.0,183.5 320.1,182.4 320.2,183.4 320.3,182.1 320.4,184.9 320.5,184.1 320.6,183.8 320.7,184.3 320.8,183.0 320.9,185.7 321.0,186.1 321.1,182.0 321.2,184.4 321.3,186.5 321.4,185.7 321.5,189.3 321.6,188.0 321.7,185.7 321.8,181.3 321.9,184.2 322.0,184.0 322.1,188.0 322.2,186.5 322.3,190.8 322.4,191.0 322.5,191.1 322.6,187.1 322.7,186.9 322.8,189.0 322.9,186.4 323.0,186.7 323.1,184.4 323.2,185.1 323.3,188.0 323.4,188.0 323.5,187.8 323.6,185.1 323.7,183.5 323.8,187.5 323.9,189.1 324.0,187.2 324.1,193.3 324.2,185.3 324.3,189.6 324.4,186.2 324.5,195.1 324.6,192.8 324.7,189.7 324.8,193.0 324.9,188.9 325.0,191.0 325.1,190.9 325.2,187.7 325.3,188.1 325.4,188.1 325.5,191.1 325.6,194.9 325.7,193.1 325.8,192.8 325.9,195.2 326.0,188.3 326.1,187.7 326.2,192.2 326.3,193.5 326.4,192.9 326.5,192.1 326.6,190.7 326.7,187.7 326.8,187.1 326.9,195.6 327.0,195.2 327.1,193.5 327.2,191.4 327.3,192.4 327.4,191.1 327.5,192.3 327.6,193.2 327.7,194.2 327.8,197.0 327.9,191.9 328.0,193.5 328.1,191.0 328.2,196.4 328.3,193.4 328.4,194.3 328.5,194.8 328.6,191.8 328.7,194.9 328.8,194.1 328.9,199.5 329.0,196.1 329.1,196.9 329.2,195.2 329.3,196.2 329.4,197.7 329.5,196.5 329.6,194.4 329.7,201.2 329.8,193.5 329.9,200.1 330.0,199.8 330.1,196.1 330.2,199.5 330.3,202.2 330.4,198.7 330.5,197.7 330.6,199.0 330.7,198.4 330.8,200.4 330.9,197.8 331.0,197.4 331.1,197.8 331.2,198.9 331.3,193.7 331.4,199.4 331.5,201.1 331.6,199.2 331.7,199.2 331.8,198.8 331.9,198.0 332.0,205.0 332.1,203.6 332.2,205.2 332.3,199.6 332.4,202.2 332.5,204.2 332.6,204.7 332.7,203.7 332.8,204.9 332.9,207.5 333.0,199.5 333.1,205.7 333.2,199.8 333.3,201.8 333.4,207.6 333.5,203.9 333.6,198.4 333.7,200.5 333.8,204.3 333.9,206.7 334.0,203.7 334.1,208.7 334.2,203.0 334.3,207.1 334.4,202.2 334.5,210.5 334.6,202.4 334.7,206.3 334.8,203.5 334.9,203.0 335.0,208.9 335.1,209.8 335.2,206.1 335.3,207.3 335.4,203.2 335.5,202.6 335.6,206.1 335.7,206.8 335.8,208.2 335.9,203.6 336.0,205.1 336.1,210.0 336.2,208.4 336.3,208.7 336.4,210.2 336.5,211.3 336.6,208.0 336.7,206.0 336.8,206.6 336.9,208.9 337.0,214.0 337.1,212.4 337.2,211.0 337.3,204.9 337.4,211.5 337.5,209.7 337.6,210.4 337.7,209.0 337.8,211.5 337.9,215.6 338.0,209.3 338.1,210.1 338.2,212.1 338.3,215.7 338.4,217.2 338.5,214.1 338.6,207.1 338.7,210.2 338.8,212.6 338.9,208.6 339.0,216.0 339.1,214.7 339.2,208.6 339.3,216.1 339.4,214.4 339.5,212.5 339.6,214.8 339.7,217.9 339.8,213.5 339.9,214.1 340.0,209.8 340.1,215.6 340.2,215.1 340.3,209.8 340.4,211.9 340.5,210.9 340.6,216.2 340.7,212.4 340.8,211.4 340.9,217.0 341.0,214.4 341.1,211.1 341.2,208.8 341.3,218.4 341.4,213.2 341.5,216.1 341.6,217.4 341.7,216.6 341.8,218.9 341.9,217.0 342.0,220.5 342.1,218.5 342.2,216.7 342.3,219.9 342.4,216.1 342.5,217.2 342.6,217.2 342.7,218.6 342.8,213.2 342.9,219.6 343.0,220.4 343.1,212.8 343.2,213.5 343.3,219.0 343.4,213.2 343.5,218.6 343.6,217.1 343.7,216.3 343.8,220.0 343.9,214.7 344.0,214.1 344.1,219.6 344.2,217.7 344.3,219.1 344.4,217.0 344.5,214.8 344.6,219.7 344.7,216.8 344.8,217.2 344.9,223.6 345.0,218.2 345.1,217.2 345.2,222.7 345.3,223.7 345.4,221.8 345.5,221.1 345.6,223.3 345.7,226.0 345.8,218.6 345.9,217.8 346.0,217.6 346.1,220.3 346.2,221.1 346.3,223.2 346.4,221.3 346.5,219.2 346.6,224.1 346.7,215.2 346.8,224.9 346.9,225.6 347.0,218.9 347.1,224.2 347.2,219.0 347.3,219.3 347.4,223.7 347.5,222.3 347.6,223.3 347.7,220.5 347.8,226.4 347.9,226.9 348.0,222.5 348.1,222.2 348.2,222.8 348.3,217.4 348.4,224.2 348.5,217.1 348.6,227.4 348.7,218.6 348.8,222.8 348.9,226.1 349.0,222.0 349.1,225.8 349.2,223.3 349.3,225.5 349.4,219.8 349.5,219.7 349.6,226.9 349.7,221.2 349.8,228.3 349.9,218.6 350.0,224.5 350.1,223.3 350.2,229.2 350.3,224.6 350.4,224.2 350.5,229.7 350.6,223.4 350.7,222.5 350.8,229.1 350.9,222.4 351.0,225.4 351.1,222.2 351.2,222.5 351.3,226.7 351.4,224.0 351.5,231.1 351.6,226.8 351.7,229.7 351.8,229.2 351.9,228.9 352.0,222.2 352.1,222.7 352.2,229.1 352.3,223.5 352.4,228.2 352.5,231.5 352.6,226.2 352.7,229.0 352.8,223.2 352.9,229.5 353.0,224.3 353.1,223.9 353.2,228.4 353.3,227.2 353.4,225.8 353.5,227.1 353.6,222.7 353.7,231.0 353.8,230.5 353.9,235.4 354.0,228.2 354.1,226.6 354.2,227.1 354.3,223.6 354.4,229.5 354.5,230.3 354.6,226.1 354.7,227.2 354.8,234.2 354.9,232.3 355.0,224.7 355.1,224.6 355.2,230.1 355.3,228.4 355.4,231.4 355.5,233.6 355.6,228.8 355.7,230.1 355.8,225.2 355.9,225.9 356.0,227.7 356.1,237.3 356.2,228.2 356.3,228.6 356.4,233.3 356.5,228.5 356.6,224.0 356.7,238.5 356.8,223.8 356.9,235.9 357.0,228.5 357.1,226.8 357.2,232.7 357.3,233.2 357.4,235.6 357.5,227.7 357.6,227.6 357.7,231.6 357.8,227.4 357.9,229.2 358.0,231.7 358.1,228.6 358.2,228.3 358.3,228.4 358.4,228.7 358.5,232.0 358.6,231.1 358.7,232.4 358.8,237.6 358.9,229.2 359.0,232.1 359.1,230.2 359.2,232.9 359.3,233.1 359.4,234.1 359.5,234.6 359.6,232.1 359.7,235.5 359.8,233.9 359.9,232.8 360.0,233.5 360.1,234.3 360.2,236.8 360.3,241.1 360.4,229.5 360.5,232.7 360.6,232.8 360.7,234.9 360.8,237.8 360.9,230.6 361.0,235.2 361.1,236.9 361.2,239.0 361.3,229.7 361.4,232.2 361.5,232.0 361.6,230.1 361.7,231.5 361.8,234.2 361.9,235.7 362.0,237.4 362.1,235.9 362.2,234.2 362.3,236.0 362.4,235.4 362.5,238.8 362.6,236.4 362.7,236.7 362.8,233.1 362.9,239.0 363.0,238.3 363.1,238.2 363.2,238.7 363.3,236.6 363.4,236.0 363.5,233.6 363.6,231.4 363.7,232.3 363.8,231.1 363.9,237.6 364.0,239.9 364.1,238.6 364.2,237.9 364.3,237.6 364.4,233.2 364.5,232.2 364.6,240.7 364.7,239.9 364.8,233.5 364.9,241.6 365.0,241.4 365.1,239.4 365.2,238.2 365.3,240.0 365.4,234.8 365.5,236.9 365.6,238.1 365.7,238.9 365.8,233.5 365.9,233.1 366.0,236.4 366.1,234.0 366.2,240.4 366.3,241.9 366.4,239.0 366.5,234.4 366.6,243.1 366.7,240.5 366.8,237.5 366.9,235.5 367.0,239.1 367.1,238.3 367.2,238.5 367.3,231.8 367.4,239.7 367.5,241.5 367.6,240.7 367.7,242.7 367.8,241.9 367.9,238.2 368.0,240.5 368.1,238.2 368.2,242.9 368.3,240.9 368.4,237.0 368.5,233.6 368.6,238.7 368.7,237.7 368.8,240.8 368.9,234.2 369.0,243.9 369.1,238.7 369.2,244.4 369.3,238.0 369.4,238.2 369.5,243.9 369.6,235.8 369.7,235.9 369.8,238.5 369.9,238.4 370.0,241.0 370.1,239.2 370.2,236.6 370.3,242.5 370.4,237.6 370.5,236.1 370.6,240.4 370.7,234.9 370.8,233.9 370.9,242.7 371.0,235.8 371.1,242.6 371.2,235.7 371.3,237.7 371.4,236.6 371.5,241.8 371.6,242.7 371.7,239.0 371.8,239.6 371.9,243.2 372.0,237.8 372.1,241.0 372.2,239.6 372.3,243.9 372.4,240.6 372.5,234.2 372.6,236.7 372.7,239.4 372.8,235.3 372.9,239.0 373.0,234.1 373.1,240.3 373.2,241.7 373.3,241.4 373.4,236.4 373.5,244.9 373.6,240.2 373.7,239.7 373.8,237.6 373.9,237.4 374.0,241.8 374.1,237.2 374.2,238.3 374.3,243.4 374.4,240.1 374.5,241.4 374.6,241.9 374.7,248.8 374.8,238.2 374.9,234.6 375.0,243.5 375.1,246.9 375.2,241.9 375.3,244.5 375.4,242.1 375.5,235.7 375.6,241.1 375.7,240.1 375.8,242.9 375.9,239.3 376.0,242.1 376.1,244.5 376.2,247.6 376.3,241.1 376.4,239.8 376.5,240.8 376.6,245.3 376.7,244.4 376.8,243.0 376.9,243.3 377.0,248.3 377.1,238.7 377.2,244.8 377.3,240.8 377.4,239.4 377.5,241.6 377.6,245.5 377.7,240.6 377.8,242.0 377.9,246.7 378.0,244.8 378.1,246.7 378.2,248.0 378.3,244.8 378.4,245.9 378.5,241.0 378.6,242.8 378.7,245.6 378.8,246.2 378.9,246.1 379.0,242.9 379.1,247.8 379.2,247.2 379.3,251.2 379.4,241.6 379.5,248.2 379.6,248.8 379.7,245.2 379.8,246.4 379.9,246.5 380.0,241.8 380.1,239.9 380.2,248.5 380.3,240.7 380.4,244.5 380.5,242.4 380.6,242.5 380.7,245.4 380.8,246.7 380.9,241.6 381.0,240.3 381.1,241.0 381.2,244.8 381.3,242.5 381.4,244.1 381.5,244.4 381.6,245.0 381.7,242.2 381.8,245.3 381.9,241.1 382.0,245.6 382.1,246.8 382.2,249.8 382.3,247.8 382.4,250.0 382.5,245.8 382.6,248.5 382.7,250.6 382.8,246.1 382.9,244.6 383.0,247.9 383.1,243.4 383.2,240.2 383.3,249.1 383.4,247.8 383.5,241.2 383.6,249.8 383.7,246.6 383.8,247.3 383.9,241.3 384.0,246.6 384.1,244.3 384.2,243.3 384.3,240.4 384.4,246.6 384.5,250.7 384.6,242.0 384.7,250.7 384.8,245.8 384.9,248.5 385.0,245.6 385.1,239.4 385.2,245.1 385.3,248.4 385.4,249.6 385.5,245.8 385.6,239.8 385.7,250.6 385.8,241.5 385.9,250.6 386.0,245.5 386.1,245.2 386.2,248.9 386.3,247.8 386.4,250.2 386.5,249.5 386.6,251.9 386.7,248.8 386.8,251.1 386.9,244.3 387.0,242.4 387.1,250.8 387.2,247.2 387.3,249.6 387.4,249.3 387.5,243.5 387.6,250.1 387.7,249.3 387.8,252.8 387.9,249.3 388.0,250.3 388.1,246.8 388.2,252.5 388.3,246.1 388.4,247.4 388.5,243.6 388.6,249.7 388.7,247.9 388.8,247.1 388.9,244.2 389.0,252.1 389.1,250.3 389.2,245.9 389.3,247.8 389.4,254.4 389.5,255.2 389.6,248.2 389.7,247.2 389.8,244.1 389.9,246.5 390.0,248.2 390.1,244.5 390.2,242.3 390.3,244.1 390.4,244.7 390.5,250.0 390.6,249.8 390.7,245.1 390.8,247.7 390.9,248.1 391.0,250.3 391.1,252.4 391.2,245.2 391.3,246.0 391.4,253.3 391.5,247.3 391.6,251.5 391.7,250.1 391.8,255.1 391.9,248.7 392.0,250.1 392.1,250.8 392.2,245.8 392.3,251.7 392.4,250.7 392.5,244.3 392.6,255.0 392.7,256.3 392.8,243.0 392.9,252.2 393.0,245.7 393.1,250.9 393.2,252.5 393.3,249.9 393.4,252.3 393.5,253.4 393.6,250.0 393.7,245.4 393.8,248.4 393.9,252.2 394.0,247.4 394.1,254.1 394.2,251.0 394.3,252.3 394.4,250.3 394.5,246.7 394.6,246.5 394.7,249.0 394.8,251.8 394.9,252.6 395.0,249.5 395.1,244.8 395.2,249.7 395.3,247.3 395.4,253.6 395.5,247.2 395.6,245.7 395.7,250.4 395.8,245.6 395.9,246.3 396.0,249.0 396.1,248.7 396.2,254.6 396.3,251.6 396.4,248.5 396.5,248.0 396.6,254.1 396.7,252.0 396.8,245.7 396.9,250.9 397.0,248.0 397.1,246.2 397.2,248.6 397.3,245.9 397.4,252.1 397.5,249.7 397.6,252.8 397.7,254.4 397.8,248.2 397.9,254.2 398.0,248.6 398.1,252.6 398.2,252.5 398.3,248.4 398.4,250.8 398.5,253.0 398.6,255.4 398.7,249.4 398.8,250.8 398.9,248.6 399.0,250.8 399.1,254.6 399.2,250.5 399.3,248.1 399.4,252.0 399.5,249.0 399.6,251.4 399.7,251.6 399.8,250.2 399.9,249.4 400.0,245.3 400.1,254.6 400.2,251.0 400.3,251.4 400.4,250.4 400.5,257.7 400.6,252.4 400.7,245.2 400.8,253.4 400.9,247.0 401.0,251.4 401.1,249.9 401.2,252.4 401.3,245.3 401.4,254.0 401.5,252.9 401.6,254.6 401.7,249.7 401.8,250.3 401.9,250.2 402.0,247.3 402.1,249.3 402.2,250.4 402.3,253.0 402.4,249.1 402.5,248.9 402.6,249.3 402.7,250.7 402.8,253.5 402.9,248.2 403.0,249.7 403.1,256.1 403.2,253.6 403.3,256.0 403.4,249.1 403.5,245.8 403.6,254.9 403.7,253.5 403.8,251.1 403.9,249.2 404.0,253.7 404.1,251.0 404.2,247.5 404.3,250.2 404.4,257.3 404.5,244.1 404.6,248.0 404.7,256.7 404.8,252.9 404.9,255.2 405.0,254.0 405.1,250.1 405.2,249.6 405.3,256.0 405.4,255.3 405.5,256.1 405.6,255.3 405.7,249.7 405.8,259.7 405.9,251.5 406.0,254.3 406.1,254.6 406.2,250.2 406.3,252.2 406.4,248.6 406.5,248.1 406.6,247.8 406.7,248.2 406.8,247.2 406.9,254.5 407.0,252.6 407.1,252.8 407.2,254.5 407.3,255.4 407.4,248.9 407.5,256.0 407.6,250.0 407.7,252.6 407.8,247.2 407.9,250.3 408.0,250.8 408.1,249.4 408.2,250.7 408.3,250.3 408.4,255.0 408.5,253.0 408.6,255.7 408.7,252.1 408.8,248.9 408.9,251.1 409.0,252.7 409.1,249.0 409.2,255.7 409.3,250.3 409.4,251.0 409.5,253.0 409.6,250.1 409.7,254.7 409.8,254.9 409.9,253.7 410.0,256.4 410.1,249.5 410.2,256.4 410.3,250.9 410.4,247.9 410.5,255.4 410.6,254.3 410.7,256.1 410.8,253.8 410.9,257.9 411.0,253.4 411.1,252.9 411.2,251.8 411.3,252.3 411.4,249.5 411.5,253.1 411.6,246.1 411.7,258.7 411.8,255.8 411.9,260.5 412.0,256.9 412.1,250.2 412.2,251.1 412.3,251.2 412.4,258.5 412.5,250.2 412.6,255.5 412.7,258.6 412.8,258.9 412.9,252.1 413.0,251.0 413.1,256.9 413.2,252.0 413.3,248.8 413.4,257.0 413.5,252.2 413.6,253.2 413.7,255.2 413.8,258.3 413.9,259.5 414.0,249.4 414.1,248.9 414.2,257.7 414.3,256.6 414.4,248.4 414.5,250.4 414.6,251.5 414.7,258.6 414.8,258.8 414.9,257.0 415.0,252.1 415.1,258.0 415.2,251.1 415.3,250.9 415.4,250.7 415.5,255.0 415.6,251.5 415.7,257.6 415.8,250.3 415.9,250.9 416.0,256.1 416.1,251.6 416.2,254.2 416.3,254.0 416.4,258.8 416.5,252.8 416.6,253.5 416.7,252.2 416.8,251.2 416.9,250.2 417.0,253.9 417.1,256.8 417.2,253.7 417.3,248.4 417.4,258.0 417.5,255.4 417.6,256.3 417.7,260.1 417.8,252.3 417.9,253.6 418.0,250.3 418.1,250.0 418.2,259.7 418.3,253.9 418.4,256.6 418.5,261.3 418.6,252.6 418.7,258.2 418.8,252.1 418.9,256.6 419.0,251.5 419.1,251.2 419.2,254.0 419.3,254.1 419.4,259.3 419.5,256.5 419.6,254.3 419.7,254.6 419.8,255.4 419.9,254.7 420.0,253.3 420.1,252.5 420.2,255.4 420.3,253.8 420.4,256.7 420.5,251.5 420.6,255.7 420.7,258.6 420.8,252.7 420.9,256.4 421.0,254.7 421.1,252.0 421.2,255.7 421.3,254.6 421.4,249.4 421.5,257.2 421.6,252.2 421.7,259.4 421.8,256.9 421.9,254.5 422.0,254.0 422.1,256.3 422.2,256.4 422.3,259.1 422.4,253.5 422.5,257.5 422.6,250.5 422.7,256.6 422.8,251.0 422.9,253.2 423.0,249.1 423.1,255.3 423.2,257.2 423.3,255.9 423.4,254.6 423.5,248.4 423.6,249.0 423.7,255.8 423.8,255.7 423.9,251.3 424.0,252.2 424.1,253.1 424.2,254.5 424.3,252.8 424.4,253.8 424.5,257.4 424.6,252.7 424.7,254.1 424.8,250.0 424.9,254.7 425.0,254.2 425.1,259.6 425.2,255.2 425.3,255.4 425.4,250.8 425.5,255.8 425.6,256.0 425.7,250.0 425.8,256.1 425.9,255.7 426.0,255.9 426.1,257.0 426.2,254.7 426.3,255.1 426.4,262.1 426.5,256.5 426.6,256.5 426.7,252.7 426.8,251.3 426.9,258.2 427.0,262.1 427.1,254.1 427.2,256.9 427.3,258.9 427.4,256.8 427.5,259.6 427.6,258.4 427.7,258.3 427.8,254.4 427.9,253.6 428.0,258.7 428.1,260.6 428.2,255.5 428.3,257.9 428.4,258.8 428.5,254.5 428.6,262.4 428.7,251.0 428.8,255.4 428.9,255.8 429.0,254.0 429.1,255.2 429.2,253.4 429.3,259.3 429.4,259.6 429.5,254.6 429.6,259.6 429.7,256.0 429.8,251.1 429.9,256.0 430.0,256.0 430.1,255.7 430.2,259.4 430.3,260.1 430.4,256.5 430.5,251.8 430.6,252.2 430.7,258.3 430.8,252.2 430.9,253.4 431.0,254.6 431.1,256.6 431.2,256.6 431.3,251.5 431.4,251.2 431.5,257.5 431.6,256.3 431.7,257.8 431.8,256.1 431.9,258.3 432.0,251.7 432.1,250.4 432.2,251.8 432.3,257.2 432.4,257.1 432.5,250.4 432.6,257.8 432.7,255.2 432.8,255.9 432.9,259.7 433.0,252.3 433.1,253.6 433.2,251.3 433.3,257.9 433.4,251.9 433.5,253.5 433.6,253.5 433.7,250.9 433.8,250.6 433.9,257.3 434.0,249.8 434.1,253.0 434.2,257.6 434.3,256.1 434.4,257.1 434.5,254.8 434.6,250.5 434.7,250.9 434.8,256.7 434.9,258.3 435.0,251.9 435.1,259.5 435.2,259.6 435.3,259.8 435.4,256.3 435.5,257.9 435.6,257.5 435.7,256.2 435.8,249.9 435.9,254.0 436.0,259.2 436.1,258.5 436.2,261.0 436.3,257.1 436.4,252.8 436.5,260.2 436.6,258.2 436.7,257.3 436.8,249.9 436.9,252.3 437.0,254.3 437.1,256.5 437.2,255.0 437.3,255.2 437.4,258.0 437.5,258.7 437.6,251.6 437.7,250.2 437.8,250.2 437.9,259.7 438.0,250.6 438.1,250.6 438.2,255.7 438.3,259.5 438.4,257.9 438.5,259.4 438.6,252.0 438.7,253.5 438.8,257.3 438.9,259.6 439.0,252.8 439.1,257.3 439.2,259.5 439.3,254.3 439.4,253.9 439.5,252.6 439.6,254.7 439.7,255.0 439.8,254.8 439.9,254.8 440.0,256.4 440.1,255.3 440.2,253.8 440.3,255.8 440.4,259.5 440.5,258.0 440.6,259.7 440.7,253.2 440.8,253.5 440.9,257.9 441.0,254.9 441.1,250.3 441.2,254.1 441.3,250.3 441.4,256.9 441.5,258.5 441.6,251.5 441.7,255.5 441.8,255.7 441.9,255.6 442.0,258.4 442.1,250.2 442.2,259.0 442.3,256.1 442.4,255.3 442.5,248.6 442.6,256.2 442.7,258.2 442.8,255.5 442.9,257.3 443.0,254.3 443.1,258.0 443.2,252.8 443.3,257.9 443.4,254.7 443.5,256.1 443.6,254.9 443.7,253.0 443.8,256.9 443.9,256.9 444.0,259.0 444.1,257.6 444.2,254.9 444.3,250.8 444.4,261.2 444.5,258.2 444.6,255.6 444.7,260.5 444.8,256.1 444.9,252.5 445.0,250.5 445.1,258.4 445.2,258.9 445.3,256.5 445.4,257.4 445.5,259.7 445.6,250.7 445.7,260.3 445.8,252.0 445.9,252.5 446.0,258.3 446.1,251.7 446.2,255.8 446.3,254.5 446.4,257.4 446.5,252.5 446.6,254.7 446.7,257.1 446.8,255.1 446.9,257.3 447.0,259.5 447.1,256.7 447.2,251.6 447.3,255.8 447.4,260.7 447.5,256.6 447.6,259.2 447.7,256.6 447.8,255.4 447.9,255.1 448.0,258.4 448.1,251.6 448.2,259.5 448.3,258.7 448.4,259.0 448.5,253.1 448.6,254.8 448.7,257.3 448.8,257.9 448.9,254.6 449.0,257.0 449.1,260.9 449.2,260.7 449.3,254.0 449.4,258.1 449.5,261.4 449.6,254.3 449.7,256.3 449.8,254.6 449.9,254.2 450.0,252.4 450.1,256.6 450.2,257.8 450.3,251.5 450.4,255.5 450.5,256.0 450.6,252.9 450.7,257.7 450.8,254.8 450.9,253.2 451.0,252.4 451.1,257.0 451.2,259.3 451.3,252.7 451.4,257.9 451.5,254.0 451.6,255.7 451.7,254.1 451.8,257.1 451.9,256.6 452.0,254.9 452.1,263.9 452.2,257.8 452.3,261.5 452.4,256.4 452.5,258.6 452.6,252.8 452.7,255.8 452.8,255.1 452.9,255.9 453.0,252.2 453.1,255.2 453.2,260.7 453.3,256.3 453.4,254.9 453.5,255.0 453.6,262.4 453.7,258.7 453.8,254.8 453.9,256.4 454.0,262.2 454.1,257.1 454.2,252.7 454.3,254.8 454.4,256.7 454.5,258.0 454.6,256.7 454.7,259.6 454.8,259.0 454.9,252.0 455.0,256.7 455.1,253.1 455.2,257.6 455.3,259.6 455.4,253.7 455.5,255.5 455.6,252.6 455.7,259.3 455.8,255.1 455.9,259.7 456.0,261.3 456.1,257.4 456.2,255.7 456.3,253.9 456.4,258.2 456.5,259.6 456.6,256.2 456.7,261.7 456.8,253.2 456.9,255.1 457.0,257.1 457.1,256.6 457.2,257.7 457.3,261.4 457.4,257.0 457.5,254.3 457.6,253.5 457.7,258.2 457.8,261.5 457.9,260.0 458.0,255.5 458.1,262.4 458.2,261.2 458.3,256.0 458.4,255.7 458.5,253.8 458.6,258.3 458.7,260.4 458.8,256.6 458.9,260.3 459.0,257.6 459.1,258.2 459.2,264.7 459.3,263.2 459.4,257.5 459.5,258.4 459.6,258.1 459.7,257.6 459.8,255.3 459.9,252.9 460.0,259.5 460.1,261.1 460.2,252.2 460.3,258.9 460.4,254.0 460.5,258.3 460.6,253.9 460.7,256.1 460.8,255.7 460.9,260.8 461.0,257.1 461.1,252.4 461.2,254.5 461.3,253.8 461.4,261.0 461.5,261.1 461.6,256.7 461.7,257.8 461.8,256.3 461.9,259.6 462.0,254.2 462.1,259.7 462.2,261.8 462.3,254.6 462.4,262.4 462.5,253.9 462.6,259.3 462.7,259.6 462.8,259.4 462.9,254.2 463.0,257.3 463.1,256.3 463.2,259.5 463.3,261.5 463.4,260.6 463.5,255.7 463.6,255.7 463.7,258.4 463.8,252.5 463.9,254.4 464.0,253.9 464.1,253.2 464.2,255.1 464.3,256.5 464.4,258.1 464.5,254.3 464.6,256.0 464.7,261.5 464.8,259.1 464.9,257.8 465.0,258.1 465.1,258.2 465.2,258.8 465.3,252.7 465.4,261.7 465.5,260.9 465.6,255.6 465.7,256.6 465.8,257.6 465.9,258.0 466.0,261.0 466.1,262.7 466.2,258.9 466.3,253.6 466.4,256.6 466.5,256.8 466.6,253.6 466.7,252.6 466.8,259.3 466.9,256.1 467.0,258.6 467.1,261.1 467.2,261.1 467.3,254.1 467.4,258.0 467.5,254.9 467.6,260.5 467.7,256.2 467.8,255.1 467.9,257.3 468.0,256.5 468.1,262.2 468.2,257.1 468.3,257.0 468.4,256.9 468.5,262.8 468.6,260.8 468.7,258.4 468.8,254.3 468.9,256.7 469.0,260.5 469.1,252.8 469.2,252.5 469.3,255.0 469.4,261.9 469.5,257.2 469.6,254.4 469.7,258.9 469.8,259.0 469.9,261.8 470.0,257.6 470.1,255.7 470.2,255.4 470.3,258.1 470.4,257.8 470.5,255.6 470.6,256.8 470.7,262.8 470.8,255.5 470.9,255.4 471.0,255.3 471.1,260.9 471.2,252.0 471.3,253.2 471.4,255.9 471.5,255.4 471.6,256.2 471.7,255.2 471.8,259.4 471.9,253.7 472.0,255.2 472.1,253.8 472.2,256.1 472.3,253.8 472.4,261.9 472.5,261.3 472.6,254.4 472.7,259.6 472.8,251.2 472.9,260.7 473.0,258.5 473.1,257.5 473.2,257.7 473.3,258.2 473.4,264.9 473.5,260.9 473.6,254.7 473.7,261.2 473.8,255.4 473.9,257.0 474.0,259.8 474.1,252.7 474.2,253.3 474.3,260.7 474.4,257.1 474.5,254.4 474.6,259.9 474.7,259.2 474.8,253.3 474.9,256.8 475.0,259.2 475.1,259.0 475.2,255.9 475.3,262.0 475.4,255.3 475.5,252.9 475.6,256.3 475.7,258.4 475.8,254.1 475.9,256.3 476.0,256.6 476.1,262.2 476.2,261.1 476.3,261.4 476.4,255.2 476.5,258.2 476.6,257.1 476.7,255.8 476.8,255.3 476.9,261.1 477.0,256.3 477.1,259.9 477.2,255.8 477.3,253.3 477.4,261.6 477.5,259.4 477.6,262.0 477.7,256.7 477.8,257.3 477.9,256.6 478.0,261.8 478.1,255.8 478.2,258.5 478.3,253.4 478.4,252.6 478.5,256.7 478.6,259.2 478.7,261.1 478.8,254.4 478.9,254.8 479.0,255.0 479.1,252.0 479.2,256.3 479.3,254.3 479.4,252.6 479.5,257.8 479.6,252.6 479.7,263.4 479.8,253.8 479.9,258.4 480.0,259.5 480.1,254.4 480.2,254.8 480.3,257.2 480.4,259.1 480.5,259.3 480.6,257.0 480.7,257.5 480.8,260.4 480.9,256.0 481.0,252.4 481.1,257.8 481.2,257.5 481.3,255.8 481.4,258.6 481.5,256.8 481.6,258.9 481.7,254.9 481.8,260.5 481.9,261.5 482.0,256.6 482.1,253.8 482.2,256.4 482.3,257.1 482.4,254.9 482.5,256.6 482.6,249.1 482.7,263.0 482.8,258.4 482.9,255.7 483.0,255.5 483.1,260.5 483.2,261.1 483.3,253.4 483.4,254.5 483.5,252.9 483.6,257.4 483.7,260.2 483.8,256.5 483.9,259.0 484.0,251.7 484.1,259.5 484.2,260.5 484.3,257.8 484.4,254.1 484.5,250.7 484.6,253.2 484.7,258.6 484.8,255.7 484.9,253.8 485.0,256.4 485.1,257.6 485.2,258.0 485.3,253.4 485.4,254.7 485.5,254.0 485.6,256.4 485.7,258.0 485.8,255.5 485.9,255.8 486.0,260.1 486.1,260.0 486.2,260.0 486.3,253.0 486.4,253.1 486.5,258.8 486.6,253.2 486.7,254.3 486.8,256.4 486.9,250.8 487.0,254.0 487.1,259.9 487.2,261.0 487.3,252.0 487.4,252.7 487.5,259.3 487.6,253.9 487.7,252.4 487.8,254.8 487.9,256.6 488.0,259.5 488.1,252.6 488.2,256.0 488.3,250.7 488.4,252.7 488.5,258.9 488.6,250.8 488.7,256.2 488.8,251.6 488.9,256.9 489.0,251.4 489.1,254.8 489.2,253.5 489.3,249.5 489.4,259.5 489.5,258.4 489.6,255.2 489.7,250.1 489.8,254.5 489.9,260.7 490.0,256.4 490.1,254.2 490.2,260.4 490.3,252.4 490.4,258.4 490.5,253.2 490.6,258.9 490.7,255.3 490.8,258.4 490.9,253.3 491.0,261.4 491.1,248.9 491.2,250.4 491.3,256.6 491.4,256.6 491.5,251.5 491.6,260.2 491.7,253.0 491.8,251.5 491.9,258.6 492.0,250.9 492.1,253.8 492.2,260.5 492.3,254.5 492.4,256.1 492.5,253.9 492.6,247.9 492.7,253.5 492.8,250.6 492.9,254.5 493.0,259.9 493.1,255.7 493.2,252.3 493.3,254.9 493.4,255.0 493.5,260.5 493.6,252.8 493.7,256.5 493.8,252.9 493.9,260.3 494.0,257.2 494.1,254.5 494.2,254.9 494.3,253.1 494.4,253.8 494.5,254.3 494.6,253.7 494.7,256.2 494.8,257.7 494.9,253.0 495.0,257.2 495.1,254.9 495.2,248.4 495.3,253.1 495.4,252.4 495.5,254.6 495.6,251.7 495.7,252.7 495.8,257.6 495.9,260.1 496.0,254.3 496.1,256.7 496.2,254.0 496.3,251.8 496.4,256.4 496.5,254.7 496.6,252.7 496.7,255.3 496.8,258.2 496.9,251.4 497.0,258.9 497.1,259.0 497.2,250.0 497.3,253.3 497.4,252.9 497.5,253.0 497.6,256.6 497.7,259.2 497.8,259.2 497.9,257.3 498.0,253.9 498.1,255.6 498.2,253.3 498.3,255.8 498.4,251.0 498.5,254.7 498.6,252.0 498.7,255.9 498.8,256.8 498.9,257.0 499.0,252.6 499.1,256.5 499.2,251.4 499.3,253.2 499.4,253.5 499.5,251.0 499.6,255.9 499.7,257.3 499.8,250.2 499.9,253.9 500.0,251.5 500.1,252.1 500.2,251.4 500.3,253.7 500.4,256.4 500.5,256.0 500.6,252.9 500.7,257.5 500.8,255.9 500.9,252.7 501.0,256.3 501.1,258.0 501.2,253.0 501.3,257.7 501.4,252.6 501.5,255.8 501.6,254.8 501.7,259.0 501.8,252.0 501.9,251.7 502.0,260.1 502.1,254.7 502.2,254.5 502.3,256.2 502.4,254.0 502.5,255.6 502.6,257.2 502.7,255.2 502.8,254.8 502.9,254.2 503.0,258.8 503.1,258.6 503.2,258.7 503.3,260.1 503.4,258.5 503.5,254.1 503.6,257.0 503.7,252.2 503.8,255.8 503.9,253.4 504.0,254.1 504.1,254.2 504.2,259.4 504.3,257.3 504.4,256.2 504.5,247.7 504.6,252.8 504.7,254.9 504.8,257.5 504.9,255.7 505.0,252.8 505.1,254.0 505.2,255.0 505.3,255.4 505.4,249.8 505.5,255.4 505.6,249.7 505.7,257.1 505.8,258.7 505.9,254.8 506.0,247.2 506.1,257.1 506.2,253.3 506.3,250.3 506.4,253.6 506.5,250.6 506.6,254.7 506.7,257.6 506.8,258.4 506.9,255.2 507.0,257.2 507.1,251.2 507.2,255.8 507.3,251.2 507.4,253.0 507.5,257.4 507.6,258.1 507.7,253.1 507.8,252.2 507.9,256.1 508.0,252.5 508.1,247.2 508.2,259.4 508.3,257.3 508.4,250.2 508.5,257.5 508.6,255.8 508.7,252.5 508.8,257.1 508.9,250.5 509.0,251.3 509.1,258.9 509.2,255.1 509.3,251.5 509.4,252.1 509.5,261.7 509.6,256.8 509.7,252.7 509.8,252.6 509.9,255.8 510.0,255.3 510.1,254.2 510.2,249.9 510.3,255.1 510.4,250.8 510.5,251.8 510.6,250.3 510.7,259.9 510.8,255.1 510.9,250.4 511.0,252.3 511.1,254.5 511.2,253.8 511.3,252.9 511.4,249.9 511.5,258.5 511.6,253.7 511.7,255.4 511.8,257.3 511.9,254.8 512.0,247.7 512.1,256.8 512.2,258.6 512.3,255.5 512.4,259.2 512.5,261.3 512.6,255.4 512.7,255.6 512.8,254.3 512.9,252.8 513.0,251.9 513.1,258.7 513.2,255.7 513.3,254.0 513.4,257.3 513.5,249.2 513.6,255.4 513.7,256.9 513.8,260.1 513.9,256.4 514.0,251.4 514.1,257.6 514.2,249.6 514.3,254.6 514.4,247.5 514.5,249.5 514.6,250.5 514.7,252.4 514.8,259.1 514.9,255.0 515.0,257.0 515.1,256.7 515.2,258.4 515.3,249.8 515.4,249.1 515.5,254.0 515.6,259.0 515.7,252.6 515.8,252.3 515.9,258.7 516.0,255.2 516.1,257.8 516.2,252.8 516.3,256.8 516.4,250.1 516.5,256.7 516.6,259.3 516.7,253.5 516.8,250.6 516.9,256.5 517.0,253.3 517.1,255.3 517.2,250.4 517.3,247.8 517.4,257.1 517.5,250.2 517.6,249.6 517.7,257.2 517.8,259.5 517.9,254.8 518.0,255.7 518.1,256.8 518.2,250.5 518.3,250.7 518.4,254.3 518.5,250.3 518.6,252.6 518.7,252.3 518.8,254.0 518.9,251.4 519.0,252.6 519.1,247.6 519.2,252.6 519.3,256.8 519.4,255.6 519.5,254.4 519.6,254.4 519.7,254.1 519.8,253.8 519.9,251.3 520.0,256.4 520.1,252.3 520.2,253.1 520.3,254.4 520.4,256.2 520.5,256.1 520.6,251.8 520.7,254.7 520.8,251.7 520.9,253.1 521.0,248.4 521.1,251.9 521.2,248.6 521.3,250.0 521.4,258.5 521.5,259.6 521.6,258.2 521.7,251.8 521.8,253.7 521.9,257.2 522.0,254.9 522.1,249.6 522.2,253.3 522.3,258.2 522.4,251.2 522.5,259.3 522.6,253.3 522.7,255.7 522.8,257.4 522.9,250.7 523.0,253.7 523.1,252.2 523.2,255.5 523.3,256.1 523.4,256.6 523.5,252.7 523.6,257.4 523.7,252.8 523.8,257.0 523.9,254.6 524.0,249.0 524.1,249.0 524.2,253.4 524.3,252.7 524.4,254.6 524.5,249.5 524.6,249.5 524.7,253.1 524.8,255.3 524.9,252.1 525.0,252.6 525.1,258.1 525.2,249.5 525.3,255.0 525.4,257.3 525.5,251.2 525.6,252.6 525.7,249.6 525.8,256.3 525.9,250.2 526.0,247.3 526.1,254.2 526.2,252.9 526.3,256.7 526.4,259.5 526.5,255.7 526.6,258.1 526.7,251.5 526.8,253.4 526.9,255.6" fill="none" stroke="#00b050" stroke-width="1.3" stroke-linejoin="round"/>
<rect x="56" y="40.5" width="165" height="26.5" fill="#fff"/>
<text x="59.5" y="55.5" font-size="13" fill="#000" stroke="#000">Relative Temperature Error</text>
<rect x="162" y="234" width="108" height="28" fill="#fff"/>
<text x="167" y="249.7" font-size="13" fill="#000" stroke="#000">50% rated torque</text>
<rect x="405" y="177" width="114" height="28" fill="#fff"/>
<text x="408.4" y="193.6" font-size="13" fill="#000" stroke="#000">100% rated torque</text>
<rect x="436" y="280" width="76" height="25" fill="#fff"/>
<text x="440" y="294.4" font-size="13" fill="#000" stroke="#000">Time [hour]</text>
<rect x="325.4" y="36" width="196.2" height="59.2" fill="#fff" stroke="#505050" stroke-width="1.5"/>
<rect x="329.9" y="52.4" width="39.8" height="1.5" fill="#ff0000"/>
<text x="373.2" y="50.9" font-size="13" fill="#ff0000" stroke="#ff0000">Original Model [13,14]</text>
<rect x="329.9" y="82.4" width="39.8" height="1.5" fill="#00b050"/>
<text x="383" y="80.7" font-size="13" fill="#00b050" stroke="#00b050">Improved model</text>

</svg>
</body></html>
